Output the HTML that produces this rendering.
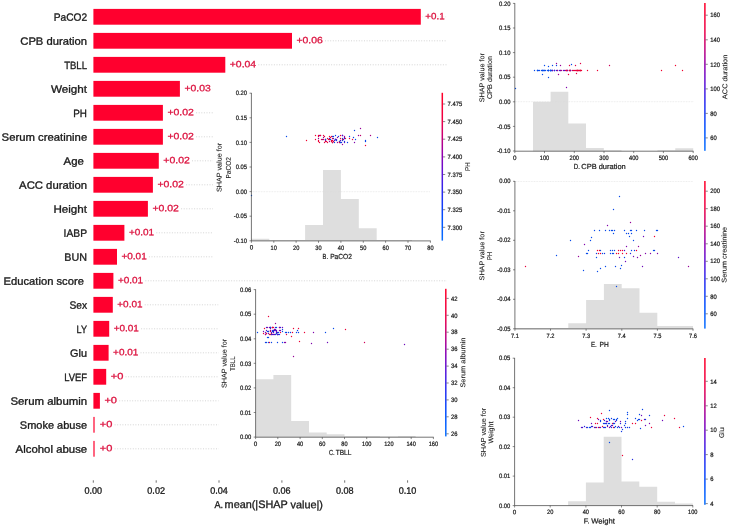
<!DOCTYPE html>
<html lang="en"><head><meta charset="utf-8"><title>SHAP summary</title>
<style>html,body{margin:0;padding:0;background:#fff}body{width:730px;height:526px;overflow:hidden}svg{display:block}text{white-space:pre}</style>
</head><body>
<svg width="730" height="526" viewBox="0 0 730 526" font-family='"Liberation Sans", Arial, sans-serif'>
<defs><linearGradient id="cbg" x1="0" y1="1" x2="0" y2="0">
<stop offset="0" stop-color="#0a70ff"/><stop offset="0.15" stop-color="#0050ff"/><stop offset="0.33" stop-color="#2a2af0"/><stop offset="0.45" stop-color="#5a14d8"/><stop offset="0.57" stop-color="#8c00b4"/><stop offset="0.69" stop-color="#c0007c"/><stop offset="0.81" stop-color="#ee0046"/><stop offset="1" stop-color="#ff0028"/>
</linearGradient></defs>
<rect width="730" height="526" fill="#fff"/>
<g id="bars">
<line x1="421.8" y1="16.8" x2="447" y2="16.8" stroke="#e6e6e6" stroke-width="0.8" stroke-dasharray="1 1.6"/>
<rect x="93.4" y="8.9" width="327.4" height="15.8" fill="#ff002e"/>
<text x="53.80" y="20.70" font-size="10.6" fill="#1a1a1a" stroke="#1a1a1a" stroke-width="0.32" textLength="33.40" lengthAdjust="spacingAndGlyphs" transform="rotate(0.03 53.80 20.70)">PaCO2</text>
<text x="425.30" y="19.30" font-size="9.2" fill="#dc1440" stroke="#dc1440" stroke-width="0.3" textLength="19.30" lengthAdjust="spacingAndGlyphs" transform="rotate(0.03 425.30 19.30)">+0.1</text>
<line x1="325.0" y1="40.8" x2="447" y2="40.8" stroke="#cacaca" stroke-width="0.8" stroke-dasharray="1 1.6"/>
<rect x="93.4" y="32.9" width="198.6" height="15.8" fill="#ff002e"/>
<text x="20.30" y="44.70" font-size="10.6" fill="#1a1a1a" stroke="#1a1a1a" stroke-width="0.32" textLength="66.70" lengthAdjust="spacingAndGlyphs" transform="rotate(0.03 20.30 44.70)">CPB duration</text>
<text x="296.50" y="43.30" font-size="9.2" fill="#dc1440" stroke="#dc1440" stroke-width="0.3" textLength="26.30" lengthAdjust="spacingAndGlyphs" transform="rotate(0.03 296.50 43.30)">+0.06</text>
<line x1="258.3" y1="64.8" x2="447" y2="64.8" stroke="#cacaca" stroke-width="0.8" stroke-dasharray="1 1.6"/>
<rect x="93.4" y="56.9" width="131.9" height="15.8" fill="#ff002e"/>
<text x="64.20" y="68.70" font-size="10.6" fill="#1a1a1a" stroke="#1a1a1a" stroke-width="0.32" textLength="22.80" lengthAdjust="spacingAndGlyphs" transform="rotate(0.03 64.20 68.70)">TBLL</text>
<text x="229.80" y="67.30" font-size="9.2" fill="#dc1440" stroke="#dc1440" stroke-width="0.3" textLength="26.30" lengthAdjust="spacingAndGlyphs" transform="rotate(0.03 229.80 67.30)">+0.04</text>
<line x1="212.9" y1="88.8" x2="447" y2="88.8" stroke="#cacaca" stroke-width="0.8" stroke-dasharray="1 1.6"/>
<rect x="93.4" y="80.9" width="86.5" height="15.8" fill="#ff002e"/>
<text x="50.90" y="92.70" font-size="10.6" fill="#1a1a1a" stroke="#1a1a1a" stroke-width="0.32" textLength="36.10" lengthAdjust="spacingAndGlyphs" transform="rotate(0.03 50.90 92.70)">Weight</text>
<text x="184.40" y="91.30" font-size="9.2" fill="#dc1440" stroke="#dc1440" stroke-width="0.3" textLength="26.30" lengthAdjust="spacingAndGlyphs" transform="rotate(0.03 184.40 91.30)">+0.03</text>
<line x1="196.1" y1="112.8" x2="447" y2="112.8" stroke="#cacaca" stroke-width="0.8" stroke-dasharray="1 1.6"/>
<rect x="93.4" y="104.9" width="69.5" height="15.8" fill="#ff002e"/>
<text x="73.30" y="116.70" font-size="10.6" fill="#1a1a1a" stroke="#1a1a1a" stroke-width="0.32" textLength="13.70" lengthAdjust="spacingAndGlyphs" transform="rotate(0.03 73.30 116.70)">PH</text>
<text x="167.40" y="115.30" font-size="9.2" fill="#dc1440" stroke="#dc1440" stroke-width="0.3" textLength="26.50" lengthAdjust="spacingAndGlyphs" transform="rotate(0.03 167.40 115.30)">+0.02</text>
<line x1="196.1" y1="136.8" x2="447" y2="136.8" stroke="#cacaca" stroke-width="0.8" stroke-dasharray="1 1.6"/>
<rect x="93.4" y="128.9" width="69.5" height="15.8" fill="#ff002e"/>
<text x="1.60" y="140.70" font-size="10.6" fill="#1a1a1a" stroke="#1a1a1a" stroke-width="0.32" textLength="85.60" lengthAdjust="spacingAndGlyphs" transform="rotate(0.03 1.60 140.70)">Serum creatinine</text>
<text x="167.40" y="139.30" font-size="9.2" fill="#dc1440" stroke="#dc1440" stroke-width="0.3" textLength="26.50" lengthAdjust="spacingAndGlyphs" transform="rotate(0.03 167.40 139.30)">+0.02</text>
<line x1="192.0" y1="160.8" x2="447" y2="160.8" stroke="#cacaca" stroke-width="0.8" stroke-dasharray="1 1.6"/>
<rect x="93.4" y="152.9" width="65.4" height="15.8" fill="#ff002e"/>
<text x="63.60" y="164.70" font-size="10.6" fill="#1a1a1a" stroke="#1a1a1a" stroke-width="0.32" textLength="20.40" lengthAdjust="spacingAndGlyphs" transform="rotate(0.03 63.60 164.70)">Age</text>
<text x="163.30" y="163.30" font-size="9.2" fill="#dc1440" stroke="#dc1440" stroke-width="0.3" textLength="26.50" lengthAdjust="spacingAndGlyphs" transform="rotate(0.03 163.30 163.30)">+0.02</text>
<line x1="186.1" y1="184.8" x2="447" y2="184.8" stroke="#cacaca" stroke-width="0.8" stroke-dasharray="1 1.6"/>
<rect x="93.4" y="176.9" width="59.5" height="15.8" fill="#ff002e"/>
<text x="19.10" y="188.70" font-size="10.6" fill="#1a1a1a" stroke="#1a1a1a" stroke-width="0.32" textLength="67.90" lengthAdjust="spacingAndGlyphs" transform="rotate(0.03 19.10 188.70)">ACC duration</text>
<text x="157.40" y="187.30" font-size="9.2" fill="#dc1440" stroke="#dc1440" stroke-width="0.3" textLength="26.50" lengthAdjust="spacingAndGlyphs" transform="rotate(0.03 157.40 187.30)">+0.02</text>
<line x1="181.1" y1="208.8" x2="447" y2="208.8" stroke="#cacaca" stroke-width="0.8" stroke-dasharray="1 1.6"/>
<rect x="93.4" y="200.9" width="54.5" height="15.8" fill="#ff002e"/>
<text x="53.40" y="212.70" font-size="10.6" fill="#1a1a1a" stroke="#1a1a1a" stroke-width="0.32" textLength="33.60" lengthAdjust="spacingAndGlyphs" transform="rotate(0.03 53.40 212.70)">Height</text>
<text x="152.40" y="211.30" font-size="9.2" fill="#dc1440" stroke="#dc1440" stroke-width="0.3" textLength="26.50" lengthAdjust="spacingAndGlyphs" transform="rotate(0.03 152.40 211.30)">+0.02</text>
<line x1="156.3" y1="232.8" x2="447" y2="232.8" stroke="#cacaca" stroke-width="0.8" stroke-dasharray="1 1.6"/>
<rect x="93.4" y="224.9" width="31.0" height="15.8" fill="#ff002e"/>
<text x="63.60" y="236.70" font-size="10.6" fill="#1a1a1a" stroke="#1a1a1a" stroke-width="0.32" textLength="23.40" lengthAdjust="spacingAndGlyphs" transform="rotate(0.03 63.60 236.70)">IABP</text>
<text x="128.90" y="235.30" font-size="9.2" fill="#dc1440" stroke="#dc1440" stroke-width="0.3" textLength="25.20" lengthAdjust="spacingAndGlyphs" transform="rotate(0.03 128.90 235.30)">+0.01</text>
<line x1="148.9" y1="256.8" x2="447" y2="256.8" stroke="#cacaca" stroke-width="0.8" stroke-dasharray="1 1.6"/>
<rect x="93.4" y="248.9" width="23.6" height="15.8" fill="#ff002e"/>
<text x="64.30" y="260.70" font-size="10.6" fill="#1a1a1a" stroke="#1a1a1a" stroke-width="0.32" textLength="22.70" lengthAdjust="spacingAndGlyphs" transform="rotate(0.03 64.30 260.70)">BUN</text>
<text x="121.50" y="259.30" font-size="9.2" fill="#dc1440" stroke="#dc1440" stroke-width="0.3" textLength="25.20" lengthAdjust="spacingAndGlyphs" transform="rotate(0.03 121.50 259.30)">+0.01</text>
<line x1="145.3" y1="280.8" x2="447" y2="280.8" stroke="#cacaca" stroke-width="0.8" stroke-dasharray="1 1.6"/>
<rect x="93.4" y="272.9" width="20.0" height="15.8" fill="#ff002e"/>
<text x="3.60" y="284.70" font-size="10.6" fill="#1a1a1a" stroke="#1a1a1a" stroke-width="0.32" textLength="80.30" lengthAdjust="spacingAndGlyphs" transform="rotate(0.03 3.60 284.70)">Education score</text>
<text x="117.90" y="283.30" font-size="9.2" fill="#dc1440" stroke="#dc1440" stroke-width="0.3" textLength="25.20" lengthAdjust="spacingAndGlyphs" transform="rotate(0.03 117.90 283.30)">+0.01</text>
<line x1="144.7" y1="304.8" x2="447" y2="304.8" stroke="#cacaca" stroke-width="0.8" stroke-dasharray="1 1.6"/>
<rect x="93.4" y="296.9" width="19.4" height="15.8" fill="#ff002e"/>
<text x="69.40" y="308.70" font-size="10.6" fill="#1a1a1a" stroke="#1a1a1a" stroke-width="0.32" textLength="17.60" lengthAdjust="spacingAndGlyphs" transform="rotate(0.03 69.40 308.70)">Sex</text>
<text x="117.30" y="307.30" font-size="9.2" fill="#dc1440" stroke="#dc1440" stroke-width="0.3" textLength="25.20" lengthAdjust="spacingAndGlyphs" transform="rotate(0.03 117.30 307.30)">+0.01</text>
<line x1="141.1" y1="328.8" x2="447" y2="328.8" stroke="#cacaca" stroke-width="0.8" stroke-dasharray="1 1.6"/>
<rect x="93.4" y="320.9" width="15.8" height="15.8" fill="#ff002e"/>
<text x="76.60" y="332.70" font-size="10.6" fill="#1a1a1a" stroke="#1a1a1a" stroke-width="0.32" textLength="10.40" lengthAdjust="spacingAndGlyphs" transform="rotate(0.03 76.60 332.70)">LY</text>
<text x="113.70" y="331.30" font-size="9.2" fill="#dc1440" stroke="#dc1440" stroke-width="0.3" textLength="25.20" lengthAdjust="spacingAndGlyphs" transform="rotate(0.03 113.70 331.30)">+0.01</text>
<line x1="140.5" y1="352.8" x2="447" y2="352.8" stroke="#cacaca" stroke-width="0.8" stroke-dasharray="1 1.6"/>
<rect x="93.4" y="344.9" width="15.2" height="15.8" fill="#ff002e"/>
<text x="70.10" y="356.70" font-size="10.6" fill="#1a1a1a" stroke="#1a1a1a" stroke-width="0.32" textLength="16.90" lengthAdjust="spacingAndGlyphs" transform="rotate(0.03 70.10 356.70)">Glu</text>
<text x="113.10" y="355.30" font-size="9.2" fill="#dc1440" stroke="#dc1440" stroke-width="0.3" textLength="25.20" lengthAdjust="spacingAndGlyphs" transform="rotate(0.03 113.10 355.30)">+0.01</text>
<line x1="125.5" y1="376.8" x2="447" y2="376.8" stroke="#cacaca" stroke-width="0.8" stroke-dasharray="1 1.6"/>
<rect x="93.4" y="368.9" width="12.8" height="15.8" fill="#ff002e"/>
<text x="64.20" y="380.70" font-size="10.6" fill="#1a1a1a" stroke="#1a1a1a" stroke-width="0.32" textLength="22.80" lengthAdjust="spacingAndGlyphs" transform="rotate(0.03 64.20 380.70)">LVEF</text>
<text x="110.70" y="379.30" font-size="9.2" fill="#dc1440" stroke="#dc1440" stroke-width="0.3" textLength="12.60" lengthAdjust="spacingAndGlyphs" transform="rotate(0.03 110.70 379.30)">+0</text>
<line x1="119.2" y1="400.8" x2="447" y2="400.8" stroke="#cacaca" stroke-width="0.8" stroke-dasharray="1 1.6"/>
<rect x="93.4" y="392.9" width="6.5" height="15.8" fill="#ff002e"/>
<text x="10.40" y="404.70" font-size="10.6" fill="#1a1a1a" stroke="#1a1a1a" stroke-width="0.32" textLength="76.80" lengthAdjust="spacingAndGlyphs" transform="rotate(0.03 10.40 404.70)">Serum albumin</text>
<text x="104.40" y="403.30" font-size="9.2" fill="#dc1440" stroke="#dc1440" stroke-width="0.3" textLength="12.60" lengthAdjust="spacingAndGlyphs" transform="rotate(0.03 104.40 403.30)">+0</text>
<line x1="114.6" y1="424.8" x2="447" y2="424.8" stroke="#cacaca" stroke-width="0.8" stroke-dasharray="1 1.6"/>
<rect x="93.4" y="416.9" width="1.2" height="15.8" fill="#ff002e"/>
<text x="19.80" y="428.70" font-size="10.6" fill="#1a1a1a" stroke="#1a1a1a" stroke-width="0.32" textLength="67.20" lengthAdjust="spacingAndGlyphs" transform="rotate(0.03 19.80 428.70)">Smoke abuse</text>
<text x="99.80" y="427.30" font-size="9.2" fill="#dc1440" stroke="#dc1440" stroke-width="0.3" textLength="12.60" lengthAdjust="spacingAndGlyphs" transform="rotate(0.03 99.80 427.30)">+0</text>
<line x1="114.6" y1="448.8" x2="447" y2="448.8" stroke="#cacaca" stroke-width="0.8" stroke-dasharray="1 1.6"/>
<rect x="93.4" y="440.9" width="1.2" height="15.8" fill="#ff002e"/>
<text x="15.60" y="452.70" font-size="10.6" fill="#1a1a1a" stroke="#1a1a1a" stroke-width="0.32" textLength="71.60" lengthAdjust="spacingAndGlyphs" transform="rotate(0.03 15.60 452.70)">Alcohol abuse</text>
<text x="99.80" y="451.30" font-size="9.2" fill="#dc1440" stroke="#dc1440" stroke-width="0.3" textLength="12.60" lengthAdjust="spacingAndGlyphs" transform="rotate(0.03 99.80 451.30)">+0</text>
</g>
<line x1="93.3" y1="480.3" x2="93.3" y2="482.7" stroke="#333" stroke-width="0.7"/>
<text x="93.30" y="493.70" font-size="9.4" fill="#1a1a1a" stroke="#1a1a1a" stroke-width="0.32" text-anchor="middle" textLength="17.60" lengthAdjust="spacingAndGlyphs" transform="rotate(0.03 93.30 493.70)">0.00</text>
<line x1="156.2" y1="480.3" x2="156.2" y2="482.7" stroke="#333" stroke-width="0.7"/>
<text x="156.15" y="493.70" font-size="9.4" fill="#1a1a1a" stroke="#1a1a1a" stroke-width="0.32" text-anchor="middle" textLength="17.60" lengthAdjust="spacingAndGlyphs" transform="rotate(0.03 156.15 493.70)">0.02</text>
<line x1="219.0" y1="480.3" x2="219.0" y2="482.7" stroke="#333" stroke-width="0.7"/>
<text x="219.00" y="493.70" font-size="9.4" fill="#1a1a1a" stroke="#1a1a1a" stroke-width="0.32" text-anchor="middle" textLength="17.60" lengthAdjust="spacingAndGlyphs" transform="rotate(0.03 219.00 493.70)">0.04</text>
<line x1="281.9" y1="480.3" x2="281.9" y2="482.7" stroke="#333" stroke-width="0.7"/>
<text x="281.85" y="493.70" font-size="9.4" fill="#1a1a1a" stroke="#1a1a1a" stroke-width="0.32" text-anchor="middle" textLength="17.60" lengthAdjust="spacingAndGlyphs" transform="rotate(0.03 281.85 493.70)">0.06</text>
<line x1="344.7" y1="480.3" x2="344.7" y2="482.7" stroke="#333" stroke-width="0.7"/>
<text x="344.70" y="493.70" font-size="9.4" fill="#1a1a1a" stroke="#1a1a1a" stroke-width="0.32" text-anchor="middle" textLength="17.60" lengthAdjust="spacingAndGlyphs" transform="rotate(0.03 344.70 493.70)">0.08</text>
<line x1="407.6" y1="480.3" x2="407.6" y2="482.7" stroke="#333" stroke-width="0.7"/>
<text x="407.55" y="493.70" font-size="9.4" fill="#1a1a1a" stroke="#1a1a1a" stroke-width="0.32" text-anchor="middle" textLength="17.60" lengthAdjust="spacingAndGlyphs" transform="rotate(0.03 407.55 493.70)">0.10</text>
<text x="214.50" y="508.10" font-size="10" fill="#1a1a1a" stroke="#1a1a1a" stroke-width="0.32" textLength="8.60" lengthAdjust="spacingAndGlyphs" transform="rotate(0.03 214.50 508.10)">A.</text>
<text x="224.60" y="508.10" font-size="10.8" fill="#1a1a1a" stroke="#1a1a1a" stroke-width="0.32" textLength="98.30" lengthAdjust="spacingAndGlyphs" transform="rotate(0.03 224.60 508.10)">mean(|SHAP value|)</text>
<g id="B">
<rect x="213" y="76" width="269" height="192" fill="#fff"/>
<path d="M251.4 240.9V238.8H269.3V239.9H305.1V225.1H323.0V170.0H340.9V199.0H358.8V228.3H376.7V239.9H412.0V240.9Z" fill="#dedede"/>
<line x1="251.4" y1="191.7" x2="430.4" y2="191.7" stroke="#dcdcdc" stroke-width="0.6" stroke-dasharray="0.8 0.8"/>
<circle cx="286.5" cy="136.5" r="0.7" fill="#074ae9"/>
<circle cx="306.5" cy="140.5" r="0.7" fill="#f0002c"/>
<circle cx="315.5" cy="135.5" r="0.7" fill="#ed0031"/>
<circle cx="315.5" cy="139.5" r="0.7" fill="#ea0037"/>
<circle cx="354.5" cy="130.5" r="0.7" fill="#0842e6"/>
<circle cx="360.5" cy="128.5" r="0.7" fill="#940098"/>
<circle cx="358.5" cy="135.5" r="0.7" fill="#940098"/>
<circle cx="360.5" cy="135.5" r="0.7" fill="#bd006c"/>
<circle cx="355.5" cy="139.5" r="0.7" fill="#074ae9"/>
<circle cx="370.5" cy="135.5" r="0.7" fill="#a80082"/>
<circle cx="365.5" cy="140.5" r="0.7" fill="#074ae9"/>
<circle cx="365.5" cy="141.5" r="0.7" fill="#0842e6"/>
<circle cx="365.5" cy="145.5" r="0.7" fill="#ed0031"/>
<circle cx="377.5" cy="137.5" r="0.7" fill="#074ae9"/>
<circle cx="342.5" cy="144.5" r="0.7" fill="#940098"/>
<circle cx="251.5" cy="195.5" r="0.7" fill="#0652eb"/>
<circle cx="332.5" cy="142.5" r="0.7" fill="#ea0037"/>
<circle cx="340.5" cy="138.5" r="0.7" fill="#ea0037"/>
<circle cx="335.5" cy="139.5" r="0.7" fill="#0842e6"/>
<circle cx="339.5" cy="141.5" r="0.7" fill="#e7003c"/>
<circle cx="340.5" cy="142.5" r="0.7" fill="#074ae9"/>
<circle cx="339.5" cy="141.5" r="0.7" fill="#074ae9"/>
<circle cx="338.5" cy="136.5" r="0.7" fill="#0842e6"/>
<circle cx="334.5" cy="140.5" r="0.7" fill="#5810c8"/>
<circle cx="320.5" cy="135.5" r="0.7" fill="#e7003c"/>
<circle cx="329.5" cy="138.5" r="0.7" fill="#ea0037"/>
<circle cx="322.5" cy="139.5" r="0.7" fill="#6c09b9"/>
<circle cx="329.5" cy="138.5" r="0.7" fill="#0842e6"/>
<circle cx="330.5" cy="137.5" r="0.7" fill="#e7003c"/>
<circle cx="340.5" cy="135.5" r="0.7" fill="#ea0037"/>
<circle cx="325.5" cy="139.5" r="0.7" fill="#ea0037"/>
<circle cx="335.5" cy="135.5" r="0.7" fill="#0842e6"/>
<circle cx="335.5" cy="139.5" r="0.7" fill="#0842e6"/>
<circle cx="329.5" cy="141.5" r="0.7" fill="#940098"/>
<circle cx="330.5" cy="139.5" r="0.7" fill="#0842e6"/>
<circle cx="342.5" cy="135.5" r="0.7" fill="#5810c8"/>
<circle cx="320.5" cy="135.5" r="0.7" fill="#e00044"/>
<circle cx="337.5" cy="142.5" r="0.7" fill="#940098"/>
<circle cx="332.5" cy="142.5" r="0.7" fill="#0842e6"/>
<circle cx="344.5" cy="138.5" r="0.7" fill="#0842e6"/>
<circle cx="327.5" cy="138.5" r="0.7" fill="#e7003c"/>
<circle cx="335.5" cy="139.5" r="0.7" fill="#940098"/>
<circle cx="344.5" cy="141.5" r="0.7" fill="#0842e6"/>
<circle cx="340.5" cy="140.5" r="0.7" fill="#5810c8"/>
<circle cx="327.5" cy="142.5" r="0.7" fill="#e7003c"/>
<circle cx="318.5" cy="136.5" r="0.7" fill="#ea0037"/>
<circle cx="335.5" cy="139.5" r="0.7" fill="#0842e6"/>
<circle cx="342.5" cy="138.5" r="0.7" fill="#0842e6"/>
<circle cx="326.5" cy="141.5" r="0.7" fill="#ea0037"/>
<circle cx="339.5" cy="142.5" r="0.7" fill="#e7003c"/>
<circle cx="325.5" cy="140.5" r="0.7" fill="#6c09b9"/>
<circle cx="321.5" cy="139.5" r="0.7" fill="#ea0037"/>
<circle cx="324.5" cy="136.5" r="0.7" fill="#e7003c"/>
<circle cx="336.5" cy="139.5" r="0.7" fill="#6c09b9"/>
<circle cx="331.5" cy="140.5" r="0.7" fill="#ea0037"/>
<circle cx="332.5" cy="138.5" r="0.7" fill="#ea0037"/>
<circle cx="344.5" cy="137.5" r="0.7" fill="#6c09b9"/>
<circle cx="325.5" cy="141.5" r="0.7" fill="#ea0037"/>
<circle cx="343.5" cy="139.5" r="0.7" fill="#5810c8"/>
<circle cx="342.5" cy="135.5" r="0.7" fill="#6c09b9"/>
<circle cx="334.5" cy="142.5" r="0.7" fill="#074ae9"/>
<circle cx="323.5" cy="137.5" r="0.7" fill="#940098"/>
<circle cx="342.5" cy="135.5" r="0.7" fill="#5810c8"/>
<circle cx="344.5" cy="142.5" r="0.7" fill="#5810c8"/>
<circle cx="318.5" cy="138.5" r="0.7" fill="#940098"/>
<circle cx="332.5" cy="142.5" r="0.7" fill="#e7003c"/>
<circle cx="341.5" cy="142.5" r="0.7" fill="#2329de"/>
<circle cx="318.5" cy="141.5" r="0.7" fill="#ed0031"/>
<circle cx="352.5" cy="139.5" r="0.7" fill="#e7003c"/>
<circle cx="333.5" cy="138.5" r="0.7" fill="#6c09b9"/>
<circle cx="344.5" cy="136.5" r="0.7" fill="#940098"/>
<circle cx="332.5" cy="136.5" r="0.7" fill="#0842e6"/>
<circle cx="319.5" cy="135.5" r="0.7" fill="#940098"/>
<circle cx="319.5" cy="142.5" r="0.7" fill="#ea0037"/>
<circle cx="349.5" cy="136.5" r="0.7" fill="#0842e6"/>
<circle cx="325.5" cy="139.5" r="0.7" fill="#940098"/>
<circle cx="354.5" cy="142.5" r="0.7" fill="#7f03ab"/>
<circle cx="347.5" cy="142.5" r="0.7" fill="#0842e6"/>
<circle cx="337.5" cy="137.5" r="0.7" fill="#940098"/>
<circle cx="339.5" cy="142.5" r="0.7" fill="#e7003c"/>
<circle cx="349.5" cy="138.5" r="0.7" fill="#ea0037"/>
<circle cx="333.5" cy="136.5" r="0.7" fill="#0842e6"/>
<circle cx="318.5" cy="140.5" r="0.7" fill="#e7003c"/>
<circle cx="331.5" cy="136.5" r="0.7" fill="#e7003c"/>
<circle cx="333.5" cy="141.5" r="0.7" fill="#ea0037"/>
<circle cx="342.5" cy="140.5" r="0.7" fill="#074ae9"/>
<circle cx="342.5" cy="139.5" r="0.7" fill="#ea0037"/>
<circle cx="329.5" cy="139.5" r="0.7" fill="#ea0037"/>
<circle cx="323.5" cy="135.5" r="0.7" fill="#ea0037"/>
<circle cx="332.5" cy="140.5" r="0.7" fill="#ea0037"/>
<circle cx="340.5" cy="142.5" r="0.7" fill="#074ae9"/>
<circle cx="345.5" cy="138.5" r="0.7" fill="#ea0037"/>
<circle cx="318.5" cy="135.5" r="0.7" fill="#ed0031"/>
<circle cx="329.5" cy="136.5" r="0.7" fill="#ed0031"/>
<circle cx="336.5" cy="140.5" r="0.7" fill="#0842e6"/>
<circle cx="323.5" cy="139.5" r="0.7" fill="#e7003c"/>
<circle cx="331.5" cy="141.5" r="0.7" fill="#e7003c"/>
<circle cx="324.5" cy="142.5" r="0.7" fill="#e00044"/>
<circle cx="353.5" cy="137.5" r="0.7" fill="#0842e6"/>
<circle cx="325.5" cy="139.5" r="0.7" fill="#0842e6"/>
<circle cx="328.5" cy="139.5" r="0.7" fill="#e00044"/>
<path d="M251.4 92.9V240.9H430.7" fill="none" stroke="#3a3a3a" stroke-width="0.7"/>
<line x1="251.4" y1="240.9" x2="251.4" y2="242.8" stroke="#3a3a3a" stroke-width="0.6"/>
<text x="251.40" y="249.60" font-size="6.3" fill="#1a1a1a" stroke="#1a1a1a" stroke-width="0.22" text-anchor="middle" textLength="3.50" lengthAdjust="spacingAndGlyphs" transform="rotate(0.03 251.40 249.60)">0</text>
<line x1="273.8" y1="240.9" x2="273.8" y2="242.8" stroke="#3a3a3a" stroke-width="0.6"/>
<text x="273.77" y="249.60" font-size="6.3" fill="#1a1a1a" stroke="#1a1a1a" stroke-width="0.22" text-anchor="middle" textLength="6.31" lengthAdjust="spacingAndGlyphs" transform="rotate(0.03 273.77 249.60)">10</text>
<line x1="296.1" y1="240.9" x2="296.1" y2="242.8" stroke="#3a3a3a" stroke-width="0.6"/>
<text x="296.15" y="249.60" font-size="6.3" fill="#1a1a1a" stroke="#1a1a1a" stroke-width="0.22" text-anchor="middle" textLength="6.31" lengthAdjust="spacingAndGlyphs" transform="rotate(0.03 296.15 249.60)">20</text>
<line x1="318.5" y1="240.9" x2="318.5" y2="242.8" stroke="#3a3a3a" stroke-width="0.6"/>
<text x="318.52" y="249.60" font-size="6.3" fill="#1a1a1a" stroke="#1a1a1a" stroke-width="0.22" text-anchor="middle" textLength="6.31" lengthAdjust="spacingAndGlyphs" transform="rotate(0.03 318.52 249.60)">30</text>
<line x1="340.9" y1="240.9" x2="340.9" y2="242.8" stroke="#3a3a3a" stroke-width="0.6"/>
<text x="340.90" y="249.60" font-size="6.3" fill="#1a1a1a" stroke="#1a1a1a" stroke-width="0.22" text-anchor="middle" textLength="6.31" lengthAdjust="spacingAndGlyphs" transform="rotate(0.03 340.90 249.60)">40</text>
<line x1="363.3" y1="240.9" x2="363.3" y2="242.8" stroke="#3a3a3a" stroke-width="0.6"/>
<text x="363.27" y="249.60" font-size="6.3" fill="#1a1a1a" stroke="#1a1a1a" stroke-width="0.22" text-anchor="middle" textLength="6.31" lengthAdjust="spacingAndGlyphs" transform="rotate(0.03 363.27 249.60)">50</text>
<line x1="385.6" y1="240.9" x2="385.6" y2="242.8" stroke="#3a3a3a" stroke-width="0.6"/>
<text x="385.65" y="249.60" font-size="6.3" fill="#1a1a1a" stroke="#1a1a1a" stroke-width="0.22" text-anchor="middle" textLength="6.31" lengthAdjust="spacingAndGlyphs" transform="rotate(0.03 385.65 249.60)">60</text>
<line x1="408.0" y1="240.9" x2="408.0" y2="242.8" stroke="#3a3a3a" stroke-width="0.6"/>
<text x="408.02" y="249.60" font-size="6.3" fill="#1a1a1a" stroke="#1a1a1a" stroke-width="0.22" text-anchor="middle" textLength="6.31" lengthAdjust="spacingAndGlyphs" transform="rotate(0.03 408.02 249.60)">70</text>
<line x1="430.4" y1="240.9" x2="430.4" y2="242.8" stroke="#3a3a3a" stroke-width="0.6"/>
<text x="430.40" y="249.60" font-size="6.3" fill="#1a1a1a" stroke="#1a1a1a" stroke-width="0.22" text-anchor="middle" textLength="6.31" lengthAdjust="spacingAndGlyphs" transform="rotate(0.03 430.40 249.60)">80</text>
<line x1="249.5" y1="93.2" x2="251.4" y2="93.2" stroke="#3a3a3a" stroke-width="0.6"/>
<text x="247.10" y="95.40" font-size="6.3" fill="#1a1a1a" stroke="#1a1a1a" stroke-width="0.22" text-anchor="end" textLength="11.40" lengthAdjust="spacingAndGlyphs" transform="rotate(0.03 247.10 95.40)">0.20</text>
<line x1="249.5" y1="117.8" x2="251.4" y2="117.8" stroke="#3a3a3a" stroke-width="0.6"/>
<text x="247.10" y="120.00" font-size="6.3" fill="#1a1a1a" stroke="#1a1a1a" stroke-width="0.22" text-anchor="end" textLength="11.40" lengthAdjust="spacingAndGlyphs" transform="rotate(0.03 247.10 120.00)">0.15</text>
<line x1="249.5" y1="142.4" x2="251.4" y2="142.4" stroke="#3a3a3a" stroke-width="0.6"/>
<text x="247.10" y="144.60" font-size="6.3" fill="#1a1a1a" stroke="#1a1a1a" stroke-width="0.22" text-anchor="end" textLength="11.40" lengthAdjust="spacingAndGlyphs" transform="rotate(0.03 247.10 144.60)">0.10</text>
<line x1="249.5" y1="167.0" x2="251.4" y2="167.0" stroke="#3a3a3a" stroke-width="0.6"/>
<text x="247.10" y="169.20" font-size="6.3" fill="#1a1a1a" stroke="#1a1a1a" stroke-width="0.22" text-anchor="end" textLength="11.40" lengthAdjust="spacingAndGlyphs" transform="rotate(0.03 247.10 169.20)">0.05</text>
<line x1="249.5" y1="191.6" x2="251.4" y2="191.6" stroke="#3a3a3a" stroke-width="0.6"/>
<text x="247.10" y="193.80" font-size="6.3" fill="#1a1a1a" stroke="#1a1a1a" stroke-width="0.22" text-anchor="end" textLength="11.40" lengthAdjust="spacingAndGlyphs" transform="rotate(0.03 247.10 193.80)">0.00</text>
<line x1="249.5" y1="216.2" x2="251.4" y2="216.2" stroke="#3a3a3a" stroke-width="0.6"/>
<text x="247.10" y="218.40" font-size="6.3" fill="#1a1a1a" stroke="#1a1a1a" stroke-width="0.22" text-anchor="end" textLength="13.35" lengthAdjust="spacingAndGlyphs" transform="rotate(0.03 247.10 218.40)">-0.05</text>
<line x1="249.5" y1="240.8" x2="251.4" y2="240.8" stroke="#3a3a3a" stroke-width="0.6"/>
<text x="247.10" y="243.00" font-size="6.3" fill="#1a1a1a" stroke="#1a1a1a" stroke-width="0.22" text-anchor="end" textLength="13.35" lengthAdjust="spacingAndGlyphs" transform="rotate(0.03 247.10 243.00)">-0.10</text>
<rect x="441.55" y="92.8" width="1.5" height="147.8" fill="url(#cbg)"/>
<line x1="443.0" y1="104.0" x2="445.2" y2="104.0" stroke="#3a3a3a" stroke-width="0.6"/>
<text x="447.60" y="106.20" font-size="6.3" fill="#1a1a1a" stroke="#1a1a1a" stroke-width="0.22" textLength="14.66" lengthAdjust="spacingAndGlyphs" transform="rotate(0.03 447.60 106.20)">7.475</text>
<line x1="443.0" y1="121.6" x2="445.2" y2="121.6" stroke="#3a3a3a" stroke-width="0.6"/>
<text x="447.60" y="123.82" font-size="6.3" fill="#1a1a1a" stroke="#1a1a1a" stroke-width="0.22" textLength="14.66" lengthAdjust="spacingAndGlyphs" transform="rotate(0.03 447.60 123.82)">7.450</text>
<line x1="443.0" y1="139.2" x2="445.2" y2="139.2" stroke="#3a3a3a" stroke-width="0.6"/>
<text x="447.60" y="141.44" font-size="6.3" fill="#1a1a1a" stroke="#1a1a1a" stroke-width="0.22" textLength="14.66" lengthAdjust="spacingAndGlyphs" transform="rotate(0.03 447.60 141.44)">7.425</text>
<line x1="443.0" y1="156.9" x2="445.2" y2="156.9" stroke="#3a3a3a" stroke-width="0.6"/>
<text x="447.60" y="159.06" font-size="6.3" fill="#1a1a1a" stroke="#1a1a1a" stroke-width="0.22" textLength="14.66" lengthAdjust="spacingAndGlyphs" transform="rotate(0.03 447.60 159.06)">7.400</text>
<line x1="443.0" y1="174.5" x2="445.2" y2="174.5" stroke="#3a3a3a" stroke-width="0.6"/>
<text x="447.60" y="176.68" font-size="6.3" fill="#1a1a1a" stroke="#1a1a1a" stroke-width="0.22" textLength="14.66" lengthAdjust="spacingAndGlyphs" transform="rotate(0.03 447.60 176.68)">7.375</text>
<line x1="443.0" y1="192.1" x2="445.2" y2="192.1" stroke="#3a3a3a" stroke-width="0.6"/>
<text x="447.60" y="194.30" font-size="6.3" fill="#1a1a1a" stroke="#1a1a1a" stroke-width="0.22" textLength="14.66" lengthAdjust="spacingAndGlyphs" transform="rotate(0.03 447.60 194.30)">7.350</text>
<line x1="443.0" y1="209.7" x2="445.2" y2="209.7" stroke="#3a3a3a" stroke-width="0.6"/>
<text x="447.60" y="211.92" font-size="6.3" fill="#1a1a1a" stroke="#1a1a1a" stroke-width="0.22" textLength="14.66" lengthAdjust="spacingAndGlyphs" transform="rotate(0.03 447.60 211.92)">7.325</text>
<line x1="443.0" y1="227.3" x2="445.2" y2="227.3" stroke="#3a3a3a" stroke-width="0.6"/>
<text x="447.60" y="229.54" font-size="6.3" fill="#1a1a1a" stroke="#1a1a1a" stroke-width="0.22" textLength="14.66" lengthAdjust="spacingAndGlyphs" transform="rotate(0.03 447.60 229.54)">7.300</text>
<text x="469.80" y="166.70" font-size="6.9" fill="#1a1a1a" stroke="#1a1a1a" stroke-width="0.1" text-anchor="middle" textLength="8.60" lengthAdjust="spacingAndGlyphs" transform="rotate(-90.03 469.80 166.70)">PH</text>
<text x="322.60" y="258.80" font-size="7.3" fill="#1a1a1a" stroke="#1a1a1a" stroke-width="0.22" textLength="5.40" lengthAdjust="spacingAndGlyphs" transform="rotate(0.03 322.60 258.80)">B.</text>
<text x="330.20" y="258.80" font-size="7.4" fill="#1a1a1a" stroke="#1a1a1a" stroke-width="0.22" textLength="21.80" lengthAdjust="spacingAndGlyphs" transform="rotate(0.03 330.20 258.80)">PaCO2</text>
<text x="221.40" y="167.50" font-size="6.9" fill="#1a1a1a" stroke="#1a1a1a" stroke-width="0.1" text-anchor="middle" textLength="49.20" lengthAdjust="spacingAndGlyphs" transform="rotate(-90.03 221.40 167.50)">SHAP value for</text>
<text x="230.80" y="167.80" font-size="6.9" fill="#1a1a1a" stroke="#1a1a1a" stroke-width="0.1" text-anchor="middle" textLength="21.40" lengthAdjust="spacingAndGlyphs" transform="rotate(-90.03 230.80 167.80)">PaCO2</text>
</g>
<g id="C">
<rect x="218.5" y="288" width="263.5" height="182" fill="#fff"/>
<path d="M255.9 437.2V379.2H273.4V375.0H291.2V421.1H309.0V432.6H326.7V434.3H344.5V435.9H380.0V436.5H398.0V435.9H415.6V437.2Z" fill="#dedede"/>
<circle cx="257.5" cy="332.5" r="0.7" fill="#074ae9"/>
<circle cx="268.5" cy="316.5" r="0.7" fill="#e7003c"/>
<circle cx="275.5" cy="323.5" r="0.7" fill="#940098"/>
<circle cx="293.5" cy="328.5" r="0.7" fill="#ed0031"/>
<circle cx="298.5" cy="328.5" r="0.7" fill="#ea0037"/>
<circle cx="297.5" cy="330.5" r="0.7" fill="#0842e6"/>
<circle cx="267.5" cy="337.5" r="0.7" fill="#074ae9"/>
<circle cx="268.5" cy="337.5" r="0.7" fill="#0842e6"/>
<circle cx="291.5" cy="336.5" r="0.7" fill="#ed0031"/>
<circle cx="286.5" cy="334.5" r="0.7" fill="#ea0037"/>
<circle cx="299.5" cy="341.5" r="0.7" fill="#ed0031"/>
<circle cx="311.5" cy="343.5" r="0.7" fill="#7f03ab"/>
<circle cx="293.5" cy="356.5" r="0.7" fill="#940098"/>
<circle cx="325.5" cy="332.5" r="0.7" fill="#074ae9"/>
<circle cx="333.5" cy="328.5" r="0.7" fill="#074ae9"/>
<circle cx="345.5" cy="329.5" r="0.7" fill="#ea0037"/>
<circle cx="327.5" cy="342.5" r="0.7" fill="#6c09b9"/>
<circle cx="364.5" cy="342.5" r="0.7" fill="#ce0058"/>
<circle cx="404.5" cy="344.5" r="0.7" fill="#6c09b9"/>
<circle cx="313.5" cy="332.5" r="0.7" fill="#7f03ab"/>
<circle cx="285.5" cy="332.5" r="0.7" fill="#074ae9"/>
<circle cx="286.5" cy="332.5" r="0.7" fill="#0842e6"/>
<circle cx="288.5" cy="332.5" r="0.7" fill="#074ae9"/>
<circle cx="290.5" cy="332.5" r="0.7" fill="#113ae3"/>
<circle cx="292.5" cy="332.5" r="0.7" fill="#ea0037"/>
<circle cx="296.5" cy="332.5" r="0.7" fill="#074ae9"/>
<circle cx="298.5" cy="332.5" r="0.7" fill="#0842e6"/>
<circle cx="304.5" cy="332.5" r="0.7" fill="#ea0037"/>
<circle cx="265.5" cy="342.5" r="0.7" fill="#113ae3"/>
<circle cx="266.5" cy="342.5" r="0.7" fill="#074ae9"/>
<circle cx="268.5" cy="342.5" r="0.7" fill="#074ae9"/>
<circle cx="269.5" cy="342.5" r="0.7" fill="#ea0037"/>
<circle cx="271.5" cy="342.5" r="0.7" fill="#074ae9"/>
<circle cx="277.5" cy="342.5" r="0.7" fill="#0842e6"/>
<circle cx="282.5" cy="342.5" r="0.7" fill="#074ae9"/>
<circle cx="284.5" cy="342.5" r="0.7" fill="#6c09b9"/>
<circle cx="285.5" cy="342.5" r="0.7" fill="#940098"/>
<circle cx="279.5" cy="327.5" r="0.7" fill="#940098"/>
<circle cx="279.5" cy="330.5" r="0.7" fill="#940098"/>
<circle cx="268.5" cy="331.5" r="0.7" fill="#e7003c"/>
<circle cx="265.5" cy="334.5" r="0.7" fill="#940098"/>
<circle cx="275.5" cy="334.5" r="0.7" fill="#074ae9"/>
<circle cx="266.5" cy="330.5" r="0.7" fill="#5810c8"/>
<circle cx="275.5" cy="327.5" r="0.7" fill="#0842e6"/>
<circle cx="270.5" cy="330.5" r="0.7" fill="#6c09b9"/>
<circle cx="271.5" cy="333.5" r="0.7" fill="#e7003c"/>
<circle cx="282.5" cy="327.5" r="0.7" fill="#6c09b9"/>
<circle cx="270.5" cy="327.5" r="0.7" fill="#940098"/>
<circle cx="271.5" cy="332.5" r="0.7" fill="#4418d0"/>
<circle cx="274.5" cy="330.5" r="0.7" fill="#074ae9"/>
<circle cx="278.5" cy="334.5" r="0.7" fill="#6c09b9"/>
<circle cx="267.5" cy="327.5" r="0.7" fill="#940098"/>
<circle cx="269.5" cy="327.5" r="0.7" fill="#6c09b9"/>
<circle cx="272.5" cy="327.5" r="0.7" fill="#7f03ab"/>
<circle cx="282.5" cy="331.5" r="0.7" fill="#074ae9"/>
<circle cx="276.5" cy="332.5" r="0.7" fill="#6c09b9"/>
<circle cx="270.5" cy="334.5" r="0.7" fill="#e7003c"/>
<circle cx="270.5" cy="328.5" r="0.7" fill="#940098"/>
<circle cx="273.5" cy="330.5" r="0.7" fill="#7f03ab"/>
<circle cx="276.5" cy="330.5" r="0.7" fill="#4418d0"/>
<circle cx="273.5" cy="327.5" r="0.7" fill="#ed0031"/>
<circle cx="276.5" cy="327.5" r="0.7" fill="#074ae9"/>
<circle cx="267.5" cy="331.5" r="0.7" fill="#0842e6"/>
<circle cx="270.5" cy="327.5" r="0.7" fill="#4418d0"/>
<circle cx="265.5" cy="332.5" r="0.7" fill="#6c09b9"/>
<circle cx="274.5" cy="334.5" r="0.7" fill="#7f03ab"/>
<circle cx="265.5" cy="334.5" r="0.7" fill="#940098"/>
<circle cx="280.5" cy="332.5" r="0.7" fill="#ed0031"/>
<circle cx="272.5" cy="334.5" r="0.7" fill="#6c09b9"/>
<circle cx="270.5" cy="331.5" r="0.7" fill="#e7003c"/>
<circle cx="268.5" cy="333.5" r="0.7" fill="#6c09b9"/>
<circle cx="266.5" cy="333.5" r="0.7" fill="#6c09b9"/>
<circle cx="275.5" cy="330.5" r="0.7" fill="#6c09b9"/>
<circle cx="272.5" cy="330.5" r="0.7" fill="#074ae9"/>
<circle cx="270.5" cy="330.5" r="0.7" fill="#940098"/>
<circle cx="272.5" cy="327.5" r="0.7" fill="#e7003c"/>
<circle cx="264.5" cy="328.5" r="0.7" fill="#ed0031"/>
<circle cx="272.5" cy="327.5" r="0.7" fill="#e7003c"/>
<circle cx="276.5" cy="331.5" r="0.7" fill="#6c09b9"/>
<circle cx="277.5" cy="334.5" r="0.7" fill="#074ae9"/>
<circle cx="282.5" cy="329.5" r="0.7" fill="#074ae9"/>
<circle cx="268.5" cy="331.5" r="0.7" fill="#0842e6"/>
<circle cx="277.5" cy="334.5" r="0.7" fill="#074ae9"/>
<circle cx="279.5" cy="334.5" r="0.7" fill="#074ae9"/>
<circle cx="276.5" cy="333.5" r="0.7" fill="#ed0031"/>
<circle cx="277.5" cy="334.5" r="0.7" fill="#4418d0"/>
<circle cx="279.5" cy="327.5" r="0.7" fill="#940098"/>
<circle cx="269.5" cy="334.5" r="0.7" fill="#e7003c"/>
<circle cx="266.5" cy="327.5" r="0.7" fill="#4418d0"/>
<circle cx="276.5" cy="333.5" r="0.7" fill="#0842e6"/>
<circle cx="270.5" cy="327.5" r="0.7" fill="#074ae9"/>
<circle cx="278.5" cy="332.5" r="0.7" fill="#074ae9"/>
<circle cx="280.5" cy="330.5" r="0.7" fill="#6c09b9"/>
<circle cx="275.5" cy="329.5" r="0.7" fill="#7f03ab"/>
<circle cx="272.5" cy="331.5" r="0.7" fill="#2329de"/>
<circle cx="280.5" cy="327.5" r="0.7" fill="#4418d0"/>
<circle cx="271.5" cy="334.5" r="0.7" fill="#e7003c"/>
<circle cx="273.5" cy="332.5" r="0.7" fill="#6c09b9"/>
<circle cx="266.5" cy="333.5" r="0.7" fill="#ed0031"/>
<circle cx="263.5" cy="331.5" r="0.7" fill="#6c09b9"/>
<circle cx="274.5" cy="329.5" r="0.7" fill="#6c09b9"/>
<circle cx="271.5" cy="334.5" r="0.7" fill="#0842e6"/>
<circle cx="263.5" cy="333.5" r="0.7" fill="#e7003c"/>
<circle cx="273.5" cy="331.5" r="0.7" fill="#0842e6"/>
<circle cx="277.5" cy="332.5" r="0.7" fill="#2329de"/>
<circle cx="274.5" cy="329.5" r="0.7" fill="#7f03ab"/>
<circle cx="273.5" cy="334.5" r="0.7" fill="#5810c8"/>
<path d="M255.6 289.3V437.2H433.7" fill="none" stroke="#3a3a3a" stroke-width="0.7"/>
<line x1="255.6" y1="437.2" x2="255.6" y2="439.1" stroke="#3a3a3a" stroke-width="0.6"/>
<text x="255.60" y="445.90" font-size="6.3" fill="#1a1a1a" stroke="#1a1a1a" stroke-width="0.22" text-anchor="middle" textLength="3.50" lengthAdjust="spacingAndGlyphs" transform="rotate(0.03 255.60 445.90)">0</text>
<line x1="277.8" y1="437.2" x2="277.8" y2="439.1" stroke="#3a3a3a" stroke-width="0.6"/>
<text x="277.82" y="445.90" font-size="6.3" fill="#1a1a1a" stroke="#1a1a1a" stroke-width="0.22" text-anchor="middle" textLength="6.31" lengthAdjust="spacingAndGlyphs" transform="rotate(0.03 277.82 445.90)">20</text>
<line x1="300.1" y1="437.2" x2="300.1" y2="439.1" stroke="#3a3a3a" stroke-width="0.6"/>
<text x="300.05" y="445.90" font-size="6.3" fill="#1a1a1a" stroke="#1a1a1a" stroke-width="0.22" text-anchor="middle" textLength="6.31" lengthAdjust="spacingAndGlyphs" transform="rotate(0.03 300.05 445.90)">40</text>
<line x1="322.3" y1="437.2" x2="322.3" y2="439.1" stroke="#3a3a3a" stroke-width="0.6"/>
<text x="322.27" y="445.90" font-size="6.3" fill="#1a1a1a" stroke="#1a1a1a" stroke-width="0.22" text-anchor="middle" textLength="6.31" lengthAdjust="spacingAndGlyphs" transform="rotate(0.03 322.27 445.90)">60</text>
<line x1="344.5" y1="437.2" x2="344.5" y2="439.1" stroke="#3a3a3a" stroke-width="0.6"/>
<text x="344.50" y="445.90" font-size="6.3" fill="#1a1a1a" stroke="#1a1a1a" stroke-width="0.22" text-anchor="middle" textLength="6.31" lengthAdjust="spacingAndGlyphs" transform="rotate(0.03 344.50 445.90)">80</text>
<line x1="366.7" y1="437.2" x2="366.7" y2="439.1" stroke="#3a3a3a" stroke-width="0.6"/>
<text x="366.73" y="445.90" font-size="6.3" fill="#1a1a1a" stroke="#1a1a1a" stroke-width="0.22" text-anchor="middle" textLength="9.46" lengthAdjust="spacingAndGlyphs" transform="rotate(0.03 366.73 445.90)">100</text>
<line x1="389.0" y1="437.2" x2="389.0" y2="439.1" stroke="#3a3a3a" stroke-width="0.6"/>
<text x="388.95" y="445.90" font-size="6.3" fill="#1a1a1a" stroke="#1a1a1a" stroke-width="0.22" text-anchor="middle" textLength="9.46" lengthAdjust="spacingAndGlyphs" transform="rotate(0.03 388.95 445.90)">120</text>
<line x1="411.2" y1="437.2" x2="411.2" y2="439.1" stroke="#3a3a3a" stroke-width="0.6"/>
<text x="411.18" y="445.90" font-size="6.3" fill="#1a1a1a" stroke="#1a1a1a" stroke-width="0.22" text-anchor="middle" textLength="9.46" lengthAdjust="spacingAndGlyphs" transform="rotate(0.03 411.18 445.90)">140</text>
<line x1="433.4" y1="437.2" x2="433.4" y2="439.1" stroke="#3a3a3a" stroke-width="0.6"/>
<text x="433.40" y="445.90" font-size="6.3" fill="#1a1a1a" stroke="#1a1a1a" stroke-width="0.22" text-anchor="middle" textLength="9.46" lengthAdjust="spacingAndGlyphs" transform="rotate(0.03 433.40 445.90)">160</text>
<line x1="253.7" y1="289.6" x2="255.6" y2="289.6" stroke="#3a3a3a" stroke-width="0.6"/>
<text x="251.30" y="291.80" font-size="6.3" fill="#1a1a1a" stroke="#1a1a1a" stroke-width="0.22" text-anchor="end" textLength="11.40" lengthAdjust="spacingAndGlyphs" transform="rotate(0.03 251.30 291.80)">0.06</text>
<line x1="253.7" y1="314.2" x2="255.6" y2="314.2" stroke="#3a3a3a" stroke-width="0.6"/>
<text x="251.30" y="316.38" font-size="6.3" fill="#1a1a1a" stroke="#1a1a1a" stroke-width="0.22" text-anchor="end" textLength="11.40" lengthAdjust="spacingAndGlyphs" transform="rotate(0.03 251.30 316.38)">0.05</text>
<line x1="253.7" y1="338.8" x2="255.6" y2="338.8" stroke="#3a3a3a" stroke-width="0.6"/>
<text x="251.30" y="340.96" font-size="6.3" fill="#1a1a1a" stroke="#1a1a1a" stroke-width="0.22" text-anchor="end" textLength="11.40" lengthAdjust="spacingAndGlyphs" transform="rotate(0.03 251.30 340.96)">0.04</text>
<line x1="253.7" y1="363.3" x2="255.6" y2="363.3" stroke="#3a3a3a" stroke-width="0.6"/>
<text x="251.30" y="365.54" font-size="6.3" fill="#1a1a1a" stroke="#1a1a1a" stroke-width="0.22" text-anchor="end" textLength="11.40" lengthAdjust="spacingAndGlyphs" transform="rotate(0.03 251.30 365.54)">0.03</text>
<line x1="253.7" y1="387.9" x2="255.6" y2="387.9" stroke="#3a3a3a" stroke-width="0.6"/>
<text x="251.30" y="390.12" font-size="6.3" fill="#1a1a1a" stroke="#1a1a1a" stroke-width="0.22" text-anchor="end" textLength="11.40" lengthAdjust="spacingAndGlyphs" transform="rotate(0.03 251.30 390.12)">0.02</text>
<line x1="253.7" y1="412.5" x2="255.6" y2="412.5" stroke="#3a3a3a" stroke-width="0.6"/>
<text x="251.30" y="414.70" font-size="6.3" fill="#1a1a1a" stroke="#1a1a1a" stroke-width="0.22" text-anchor="end" textLength="11.40" lengthAdjust="spacingAndGlyphs" transform="rotate(0.03 251.30 414.70)">0.01</text>
<line x1="253.7" y1="437.1" x2="255.6" y2="437.1" stroke="#3a3a3a" stroke-width="0.6"/>
<text x="251.30" y="439.28" font-size="6.3" fill="#1a1a1a" stroke="#1a1a1a" stroke-width="0.22" text-anchor="end" textLength="11.40" lengthAdjust="spacingAndGlyphs" transform="rotate(0.03 251.30 439.28)">0.00</text>
<rect x="445.05" y="288.8" width="1.5" height="147.6" fill="url(#cbg)"/>
<line x1="446.5" y1="298.4" x2="448.7" y2="298.4" stroke="#3a3a3a" stroke-width="0.6"/>
<text x="451.10" y="300.60" font-size="6.3" fill="#1a1a1a" stroke="#1a1a1a" stroke-width="0.22" textLength="6.52" lengthAdjust="spacingAndGlyphs" transform="rotate(0.03 451.10 300.60)">42</text>
<line x1="446.5" y1="315.3" x2="448.7" y2="315.3" stroke="#3a3a3a" stroke-width="0.6"/>
<text x="451.10" y="317.52" font-size="6.3" fill="#1a1a1a" stroke="#1a1a1a" stroke-width="0.22" textLength="6.52" lengthAdjust="spacingAndGlyphs" transform="rotate(0.03 451.10 317.52)">40</text>
<line x1="446.5" y1="332.2" x2="448.7" y2="332.2" stroke="#3a3a3a" stroke-width="0.6"/>
<text x="451.10" y="334.44" font-size="6.3" fill="#1a1a1a" stroke="#1a1a1a" stroke-width="0.22" textLength="6.52" lengthAdjust="spacingAndGlyphs" transform="rotate(0.03 451.10 334.44)">38</text>
<line x1="446.5" y1="349.2" x2="448.7" y2="349.2" stroke="#3a3a3a" stroke-width="0.6"/>
<text x="451.10" y="351.36" font-size="6.3" fill="#1a1a1a" stroke="#1a1a1a" stroke-width="0.22" textLength="6.52" lengthAdjust="spacingAndGlyphs" transform="rotate(0.03 451.10 351.36)">36</text>
<line x1="446.5" y1="366.1" x2="448.7" y2="366.1" stroke="#3a3a3a" stroke-width="0.6"/>
<text x="451.10" y="368.28" font-size="6.3" fill="#1a1a1a" stroke="#1a1a1a" stroke-width="0.22" textLength="6.52" lengthAdjust="spacingAndGlyphs" transform="rotate(0.03 451.10 368.28)">34</text>
<line x1="446.5" y1="383.0" x2="448.7" y2="383.0" stroke="#3a3a3a" stroke-width="0.6"/>
<text x="451.10" y="385.20" font-size="6.3" fill="#1a1a1a" stroke="#1a1a1a" stroke-width="0.22" textLength="6.52" lengthAdjust="spacingAndGlyphs" transform="rotate(0.03 451.10 385.20)">32</text>
<line x1="446.5" y1="399.9" x2="448.7" y2="399.9" stroke="#3a3a3a" stroke-width="0.6"/>
<text x="451.10" y="402.12" font-size="6.3" fill="#1a1a1a" stroke="#1a1a1a" stroke-width="0.22" textLength="6.52" lengthAdjust="spacingAndGlyphs" transform="rotate(0.03 451.10 402.12)">30</text>
<line x1="446.5" y1="416.8" x2="448.7" y2="416.8" stroke="#3a3a3a" stroke-width="0.6"/>
<text x="451.10" y="419.04" font-size="6.3" fill="#1a1a1a" stroke="#1a1a1a" stroke-width="0.22" textLength="6.52" lengthAdjust="spacingAndGlyphs" transform="rotate(0.03 451.10 419.04)">28</text>
<line x1="446.5" y1="433.8" x2="448.7" y2="433.8" stroke="#3a3a3a" stroke-width="0.6"/>
<text x="451.10" y="435.96" font-size="6.3" fill="#1a1a1a" stroke="#1a1a1a" stroke-width="0.22" textLength="6.52" lengthAdjust="spacingAndGlyphs" transform="rotate(0.03 451.10 435.96)">26</text>
<text x="465.20" y="362.60" font-size="6.9" fill="#1a1a1a" stroke="#1a1a1a" stroke-width="0.1" text-anchor="middle" textLength="50.00" lengthAdjust="spacingAndGlyphs" transform="rotate(-90.03 465.20 362.60)">Serum albumin</text>
<text x="328.90" y="455.00" font-size="7.3" fill="#1a1a1a" stroke="#1a1a1a" stroke-width="0.22" textLength="5.80" lengthAdjust="spacingAndGlyphs" transform="rotate(0.03 328.90 455.00)">C.</text>
<text x="335.70" y="455.00" font-size="7.4" fill="#1a1a1a" stroke="#1a1a1a" stroke-width="0.22" textLength="15.60" lengthAdjust="spacingAndGlyphs" transform="rotate(0.03 335.70 455.00)">TBLL</text>
<text x="226.60" y="363.50" font-size="6.9" fill="#1a1a1a" stroke="#1a1a1a" stroke-width="0.1" text-anchor="middle" textLength="49.20" lengthAdjust="spacingAndGlyphs" transform="rotate(-90.03 226.60 363.50)">SHAP value for</text>
<text x="235.50" y="363.70" font-size="6.9" fill="#1a1a1a" stroke="#1a1a1a" stroke-width="0.1" text-anchor="middle" textLength="14.60" lengthAdjust="spacingAndGlyphs" transform="rotate(-90.03 235.50 363.70)">TBLL</text>
</g>
<g id="D">
<path d="M533.0 151.2V101.8H550.6V91.8H568.3V123.6H586.0V148.0H603.8V150.3H621.5V151.2ZM657.5 151.2V150.3H675.3V148.2H693.2V151.2Z" fill="#dedede"/>
<line x1="514.8" y1="101.7" x2="693.2" y2="101.7" stroke="#dcdcdc" stroke-width="0.6" stroke-dasharray="0.8 0.8"/>
<circle cx="544.5" cy="65.5" r="0.7" fill="#074ae9"/>
<circle cx="548.5" cy="66.5" r="0.7" fill="#074ae9"/>
<circle cx="552.5" cy="65.5" r="0.7" fill="#074ae9"/>
<circle cx="556.5" cy="65.5" r="0.7" fill="#0842e6"/>
<circle cx="556.5" cy="63.5" r="0.7" fill="#940098"/>
<circle cx="560.5" cy="65.5" r="0.7" fill="#940098"/>
<circle cx="569.5" cy="65.5" r="0.7" fill="#e00044"/>
<circle cx="571.5" cy="64.5" r="0.7" fill="#074ae9"/>
<circle cx="575.5" cy="65.5" r="0.7" fill="#e00044"/>
<circle cx="580.5" cy="63.5" r="0.7" fill="#e00044"/>
<circle cx="542.5" cy="74.5" r="0.7" fill="#074ae9"/>
<circle cx="548.5" cy="77.5" r="0.7" fill="#074ae9"/>
<circle cx="558.5" cy="74.5" r="0.7" fill="#940098"/>
<circle cx="568.5" cy="74.5" r="0.7" fill="#e00044"/>
<circle cx="576.5" cy="73.5" r="0.7" fill="#e00044"/>
<circle cx="566.5" cy="87.5" r="0.7" fill="#7f03ab"/>
<circle cx="587.5" cy="70.5" r="0.7" fill="#ed0031"/>
<circle cx="597.5" cy="70.5" r="0.7" fill="#ed0031"/>
<circle cx="609.5" cy="65.5" r="0.7" fill="#ce0058"/>
<circle cx="661.5" cy="70.5" r="0.7" fill="#f0002c"/>
<circle cx="675.5" cy="65.5" r="0.7" fill="#f0002c"/>
<circle cx="682.5" cy="70.5" r="0.7" fill="#f0002c"/>
<circle cx="515.5" cy="88.5" r="0.7" fill="#074dea"/>
<circle cx="542.5" cy="70.5" r="0.7" fill="#074dea"/>
<circle cx="576.5" cy="70.5" r="0.7" fill="#ee002f"/>
<circle cx="577.5" cy="70.5" r="0.7" fill="#e90037"/>
<circle cx="537.5" cy="70.5" r="0.7" fill="#074dea"/>
<circle cx="550.5" cy="70.5" r="0.7" fill="#074dea"/>
<circle cx="551.5" cy="70.5" r="0.7" fill="#074dea"/>
<circle cx="570.5" cy="70.5" r="0.7" fill="#e90038"/>
<circle cx="578.5" cy="70.5" r="0.7" fill="#f0002c"/>
<circle cx="550.5" cy="70.5" r="0.7" fill="#074dea"/>
<circle cx="581.5" cy="70.5" r="0.7" fill="#f0002c"/>
<circle cx="556.5" cy="70.5" r="0.7" fill="#2b23db"/>
<circle cx="541.5" cy="70.5" r="0.7" fill="#074dea"/>
<circle cx="579.5" cy="70.5" r="0.7" fill="#e6003d"/>
<circle cx="559.5" cy="70.5" r="0.7" fill="#3f1bd3"/>
<circle cx="580.5" cy="70.5" r="0.7" fill="#f0002c"/>
<circle cx="565.5" cy="70.5" r="0.7" fill="#df0045"/>
<circle cx="561.5" cy="70.5" r="0.7" fill="#a30087"/>
<circle cx="569.5" cy="70.5" r="0.7" fill="#c10067"/>
<circle cx="566.5" cy="70.5" r="0.7" fill="#8301a8"/>
<circle cx="578.5" cy="70.5" r="0.7" fill="#d8004d"/>
<circle cx="552.5" cy="70.5" r="0.7" fill="#1c2fe0"/>
<circle cx="580.5" cy="70.5" r="0.7" fill="#e80039"/>
<circle cx="550.5" cy="70.5" r="0.7" fill="#074dea"/>
<circle cx="544.5" cy="70.5" r="0.7" fill="#074dea"/>
<circle cx="577.5" cy="70.5" r="0.7" fill="#ea0036"/>
<circle cx="577.5" cy="70.5" r="0.7" fill="#f0002c"/>
<circle cx="543.5" cy="70.5" r="0.7" fill="#074dea"/>
<circle cx="552.5" cy="70.5" r="0.7" fill="#0d3de4"/>
<circle cx="548.5" cy="70.5" r="0.7" fill="#074dea"/>
<circle cx="570.5" cy="70.5" r="0.7" fill="#c20066"/>
<circle cx="560.5" cy="70.5" r="0.7" fill="#620dc1"/>
<circle cx="539.5" cy="70.5" r="0.7" fill="#074dea"/>
<circle cx="542.5" cy="70.5" r="0.7" fill="#074dea"/>
<circle cx="575.5" cy="70.5" r="0.7" fill="#ce0058"/>
<circle cx="548.5" cy="70.5" r="0.7" fill="#074dea"/>
<circle cx="579.5" cy="70.5" r="0.7" fill="#f0002c"/>
<circle cx="537.5" cy="70.5" r="0.7" fill="#074dea"/>
<circle cx="577.5" cy="70.5" r="0.7" fill="#e90038"/>
<circle cx="537.5" cy="70.5" r="0.7" fill="#074dea"/>
<circle cx="574.5" cy="70.5" r="0.7" fill="#ee002f"/>
<circle cx="548.5" cy="70.5" r="0.7" fill="#074dea"/>
<circle cx="560.5" cy="70.5" r="0.7" fill="#91009a"/>
<circle cx="569.5" cy="70.5" r="0.7" fill="#d9004c"/>
<circle cx="557.5" cy="70.5" r="0.7" fill="#630cc0"/>
<circle cx="572.5" cy="70.5" r="0.7" fill="#b30076"/>
<circle cx="566.5" cy="70.5" r="0.7" fill="#8600a6"/>
<circle cx="548.5" cy="70.5" r="0.7" fill="#074dea"/>
<circle cx="542.5" cy="70.5" r="0.7" fill="#074dea"/>
<circle cx="563.5" cy="70.5" r="0.7" fill="#7b04ae"/>
<circle cx="564.5" cy="70.5" r="0.7" fill="#4617cf"/>
<circle cx="557.5" cy="70.5" r="0.7" fill="#a60084"/>
<circle cx="576.5" cy="70.5" r="0.7" fill="#e80039"/>
<circle cx="548.5" cy="70.5" r="0.7" fill="#074dea"/>
<circle cx="550.5" cy="70.5" r="0.7" fill="#074dea"/>
<circle cx="567.5" cy="70.5" r="0.7" fill="#a50085"/>
<circle cx="567.5" cy="70.5" r="0.7" fill="#e6003d"/>
<circle cx="538.5" cy="70.5" r="0.7" fill="#074dea"/>
<circle cx="567.5" cy="70.5" r="0.7" fill="#8401a7"/>
<circle cx="570.5" cy="70.5" r="0.7" fill="#cb005c"/>
<circle cx="580.5" cy="70.5" r="0.7" fill="#e90037"/>
<circle cx="547.5" cy="70.5" r="0.7" fill="#074dea"/>
<circle cx="550.5" cy="70.5" r="0.7" fill="#074dea"/>
<circle cx="545.5" cy="70.5" r="0.7" fill="#074dea"/>
<circle cx="566.5" cy="70.5" r="0.7" fill="#e6003c"/>
<circle cx="554.5" cy="70.5" r="0.7" fill="#1f2ddf"/>
<circle cx="543.5" cy="70.5" r="0.7" fill="#074dea"/>
<circle cx="554.5" cy="70.5" r="0.7" fill="#8002aa"/>
<circle cx="569.5" cy="70.5" r="0.7" fill="#ec0033"/>
<circle cx="551.5" cy="70.5" r="0.7" fill="#074dea"/>
<circle cx="570.5" cy="70.5" r="0.7" fill="#8301a8"/>
<circle cx="554.5" cy="70.5" r="0.7" fill="#2824dc"/>
<circle cx="544.5" cy="70.5" r="0.7" fill="#074dea"/>
<circle cx="552.5" cy="70.5" r="0.7" fill="#7905b0"/>
<circle cx="580.5" cy="70.5" r="0.7" fill="#e6003c"/>
<circle cx="573.5" cy="70.5" r="0.7" fill="#ed0031"/>
<circle cx="534.5" cy="70.5" r="0.7" fill="#074ae9"/>
<path d="M514.8 3.1V151.2H693.5" fill="none" stroke="#3a3a3a" stroke-width="0.7"/>
<line x1="514.8" y1="151.2" x2="514.8" y2="153.1" stroke="#3a3a3a" stroke-width="0.6"/>
<text x="514.80" y="159.90" font-size="6.3" fill="#1a1a1a" stroke="#1a1a1a" stroke-width="0.22" text-anchor="middle" textLength="3.50" lengthAdjust="spacingAndGlyphs" transform="rotate(0.03 514.80 159.90)">0</text>
<line x1="544.5" y1="151.2" x2="544.5" y2="153.1" stroke="#3a3a3a" stroke-width="0.6"/>
<text x="544.53" y="159.90" font-size="6.3" fill="#1a1a1a" stroke="#1a1a1a" stroke-width="0.22" text-anchor="middle" textLength="9.46" lengthAdjust="spacingAndGlyphs" transform="rotate(0.03 544.53 159.90)">100</text>
<line x1="574.3" y1="151.2" x2="574.3" y2="153.1" stroke="#3a3a3a" stroke-width="0.6"/>
<text x="574.26" y="159.90" font-size="6.3" fill="#1a1a1a" stroke="#1a1a1a" stroke-width="0.22" text-anchor="middle" textLength="9.46" lengthAdjust="spacingAndGlyphs" transform="rotate(0.03 574.26 159.90)">200</text>
<line x1="604.0" y1="151.2" x2="604.0" y2="153.1" stroke="#3a3a3a" stroke-width="0.6"/>
<text x="603.99" y="159.90" font-size="6.3" fill="#1a1a1a" stroke="#1a1a1a" stroke-width="0.22" text-anchor="middle" textLength="9.46" lengthAdjust="spacingAndGlyphs" transform="rotate(0.03 603.99 159.90)">300</text>
<line x1="633.7" y1="151.2" x2="633.7" y2="153.1" stroke="#3a3a3a" stroke-width="0.6"/>
<text x="633.72" y="159.90" font-size="6.3" fill="#1a1a1a" stroke="#1a1a1a" stroke-width="0.22" text-anchor="middle" textLength="9.46" lengthAdjust="spacingAndGlyphs" transform="rotate(0.03 633.72 159.90)">400</text>
<line x1="663.4" y1="151.2" x2="663.4" y2="153.1" stroke="#3a3a3a" stroke-width="0.6"/>
<text x="663.45" y="159.90" font-size="6.3" fill="#1a1a1a" stroke="#1a1a1a" stroke-width="0.22" text-anchor="middle" textLength="9.46" lengthAdjust="spacingAndGlyphs" transform="rotate(0.03 663.45 159.90)">500</text>
<line x1="693.2" y1="151.2" x2="693.2" y2="153.1" stroke="#3a3a3a" stroke-width="0.6"/>
<text x="693.18" y="159.90" font-size="6.3" fill="#1a1a1a" stroke="#1a1a1a" stroke-width="0.22" text-anchor="middle" textLength="9.46" lengthAdjust="spacingAndGlyphs" transform="rotate(0.03 693.18 159.90)">600</text>
<line x1="512.9" y1="3.4" x2="514.8" y2="3.4" stroke="#3a3a3a" stroke-width="0.6"/>
<text x="510.50" y="5.60" font-size="6.3" fill="#1a1a1a" stroke="#1a1a1a" stroke-width="0.22" text-anchor="end" textLength="11.40" lengthAdjust="spacingAndGlyphs" transform="rotate(0.03 510.50 5.60)">0.20</text>
<line x1="512.9" y1="28.0" x2="514.8" y2="28.0" stroke="#3a3a3a" stroke-width="0.6"/>
<text x="510.50" y="30.20" font-size="6.3" fill="#1a1a1a" stroke="#1a1a1a" stroke-width="0.22" text-anchor="end" textLength="11.40" lengthAdjust="spacingAndGlyphs" transform="rotate(0.03 510.50 30.20)">0.15</text>
<line x1="512.9" y1="52.6" x2="514.8" y2="52.6" stroke="#3a3a3a" stroke-width="0.6"/>
<text x="510.50" y="54.80" font-size="6.3" fill="#1a1a1a" stroke="#1a1a1a" stroke-width="0.22" text-anchor="end" textLength="11.40" lengthAdjust="spacingAndGlyphs" transform="rotate(0.03 510.50 54.80)">0.10</text>
<line x1="512.9" y1="77.2" x2="514.8" y2="77.2" stroke="#3a3a3a" stroke-width="0.6"/>
<text x="510.50" y="79.40" font-size="6.3" fill="#1a1a1a" stroke="#1a1a1a" stroke-width="0.22" text-anchor="end" textLength="11.40" lengthAdjust="spacingAndGlyphs" transform="rotate(0.03 510.50 79.40)">0.05</text>
<line x1="512.9" y1="101.8" x2="514.8" y2="101.8" stroke="#3a3a3a" stroke-width="0.6"/>
<text x="510.50" y="104.00" font-size="6.3" fill="#1a1a1a" stroke="#1a1a1a" stroke-width="0.22" text-anchor="end" textLength="11.40" lengthAdjust="spacingAndGlyphs" transform="rotate(0.03 510.50 104.00)">0.00</text>
<line x1="512.9" y1="126.4" x2="514.8" y2="126.4" stroke="#3a3a3a" stroke-width="0.6"/>
<text x="510.50" y="128.60" font-size="6.3" fill="#1a1a1a" stroke="#1a1a1a" stroke-width="0.22" text-anchor="end" textLength="13.35" lengthAdjust="spacingAndGlyphs" transform="rotate(0.03 510.50 128.60)">-0.05</text>
<line x1="512.9" y1="151.0" x2="514.8" y2="151.0" stroke="#3a3a3a" stroke-width="0.6"/>
<text x="510.50" y="153.20" font-size="6.3" fill="#1a1a1a" stroke="#1a1a1a" stroke-width="0.22" text-anchor="end" textLength="13.35" lengthAdjust="spacingAndGlyphs" transform="rotate(0.03 510.50 153.20)">-0.10</text>
<rect x="704.15" y="3.0" width="1.5" height="147.8" fill="url(#cbg)"/>
<line x1="705.6" y1="15.2" x2="707.8" y2="15.2" stroke="#3a3a3a" stroke-width="0.6"/>
<text x="710.20" y="17.40" font-size="6.3" fill="#1a1a1a" stroke="#1a1a1a" stroke-width="0.22" textLength="9.77" lengthAdjust="spacingAndGlyphs" transform="rotate(0.03 710.20 17.40)">160</text>
<line x1="705.6" y1="39.8" x2="707.8" y2="39.8" stroke="#3a3a3a" stroke-width="0.6"/>
<text x="710.20" y="41.95" font-size="6.3" fill="#1a1a1a" stroke="#1a1a1a" stroke-width="0.22" textLength="9.77" lengthAdjust="spacingAndGlyphs" transform="rotate(0.03 710.20 41.95)">140</text>
<line x1="705.6" y1="64.3" x2="707.8" y2="64.3" stroke="#3a3a3a" stroke-width="0.6"/>
<text x="710.20" y="66.50" font-size="6.3" fill="#1a1a1a" stroke="#1a1a1a" stroke-width="0.22" textLength="9.77" lengthAdjust="spacingAndGlyphs" transform="rotate(0.03 710.20 66.50)">120</text>
<line x1="705.6" y1="88.9" x2="707.8" y2="88.9" stroke="#3a3a3a" stroke-width="0.6"/>
<text x="710.20" y="91.05" font-size="6.3" fill="#1a1a1a" stroke="#1a1a1a" stroke-width="0.22" textLength="9.77" lengthAdjust="spacingAndGlyphs" transform="rotate(0.03 710.20 91.05)">100</text>
<line x1="705.6" y1="113.4" x2="707.8" y2="113.4" stroke="#3a3a3a" stroke-width="0.6"/>
<text x="710.20" y="115.60" font-size="6.3" fill="#1a1a1a" stroke="#1a1a1a" stroke-width="0.22" textLength="6.52" lengthAdjust="spacingAndGlyphs" transform="rotate(0.03 710.20 115.60)">80</text>
<line x1="705.6" y1="137.9" x2="707.8" y2="137.9" stroke="#3a3a3a" stroke-width="0.6"/>
<text x="710.20" y="140.15" font-size="6.3" fill="#1a1a1a" stroke="#1a1a1a" stroke-width="0.22" textLength="6.52" lengthAdjust="spacingAndGlyphs" transform="rotate(0.03 710.20 140.15)">60</text>
<text x="727.20" y="76.90" font-size="6.9" fill="#1a1a1a" stroke="#1a1a1a" stroke-width="0.1" text-anchor="middle" textLength="44.50" lengthAdjust="spacingAndGlyphs" transform="rotate(-90.03 727.20 76.90)">ACC duration</text>
<text x="573.70" y="168.90" font-size="7.3" fill="#1a1a1a" stroke="#1a1a1a" stroke-width="0.22" textLength="6.20" lengthAdjust="spacingAndGlyphs" transform="rotate(0.03 573.70 168.90)">D.</text>
<text x="581.30" y="168.90" font-size="7.4" fill="#1a1a1a" stroke="#1a1a1a" stroke-width="0.22" textLength="44.40" lengthAdjust="spacingAndGlyphs" transform="rotate(0.03 581.30 168.90)">CPB duration</text>
<text x="484.20" y="77.70" font-size="6.9" fill="#1a1a1a" stroke="#1a1a1a" stroke-width="0.1" text-anchor="middle" textLength="49.20" lengthAdjust="spacingAndGlyphs" transform="rotate(-90.03 484.20 77.70)">SHAP value for</text>
<text x="492.00" y="77.50" font-size="6.9" fill="#1a1a1a" stroke="#1a1a1a" stroke-width="0.1" text-anchor="middle" textLength="42.80" lengthAdjust="spacingAndGlyphs" transform="rotate(-90.03 492.00 77.50)">CPB duration</text>
</g>
<g id="E">
<path d="M515.0 328.9V328.0H568.3V323.2H586.1V300.0H603.9V284.1H621.7V288.3H639.5V312.8H657.3V326.0H693.0V328.9Z" fill="#dedede"/>
<line x1="514.9" y1="181.5" x2="693.0" y2="181.5" stroke="#dcdcdc" stroke-width="0.6" stroke-dasharray="0.8 0.8"/>
<circle cx="619.5" cy="196.5" r="0.7" fill="#074ae9"/>
<circle cx="613.5" cy="209.5" r="0.7" fill="#0747e8"/>
<circle cx="607.5" cy="225.5" r="0.7" fill="#7f03ab"/>
<circle cx="630.5" cy="222.5" r="0.7" fill="#940098"/>
<circle cx="594.5" cy="230.5" r="0.7" fill="#074ae9"/>
<circle cx="599.5" cy="230.5" r="0.7" fill="#074ae9"/>
<circle cx="605.5" cy="230.5" r="0.7" fill="#074ae9"/>
<circle cx="609.5" cy="230.5" r="0.7" fill="#074ae9"/>
<circle cx="611.5" cy="230.5" r="0.7" fill="#074ae9"/>
<circle cx="612.5" cy="230.5" r="0.7" fill="#074ae9"/>
<circle cx="614.5" cy="230.5" r="0.7" fill="#074ae9"/>
<circle cx="624.5" cy="230.5" r="0.7" fill="#074ae9"/>
<circle cx="630.5" cy="230.5" r="0.7" fill="#074ae9"/>
<circle cx="631.5" cy="230.5" r="0.7" fill="#074ae9"/>
<circle cx="636.5" cy="230.5" r="0.7" fill="#074ae9"/>
<circle cx="644.5" cy="230.5" r="0.7" fill="#074ae9"/>
<circle cx="656.5" cy="230.5" r="0.7" fill="#074ae9"/>
<circle cx="657.5" cy="230.5" r="0.7" fill="#074ae9"/>
<circle cx="613.5" cy="233.5" r="0.7" fill="#074ae9"/>
<circle cx="626.5" cy="233.5" r="0.7" fill="#074ae9"/>
<circle cx="628.5" cy="233.5" r="0.7" fill="#0842e6"/>
<circle cx="631.5" cy="233.5" r="0.7" fill="#074ae9"/>
<circle cx="591.5" cy="237.5" r="0.7" fill="#074ae9"/>
<circle cx="590.5" cy="240.5" r="0.7" fill="#074ae9"/>
<circle cx="570.5" cy="240.5" r="0.7" fill="#074dea"/>
<circle cx="629.5" cy="236.5" r="0.7" fill="#074ae9"/>
<circle cx="633.5" cy="240.5" r="0.7" fill="#074ae9"/>
<circle cx="643.5" cy="236.5" r="0.7" fill="#6c09b9"/>
<circle cx="654.5" cy="236.5" r="0.7" fill="#f0002c"/>
<circle cx="584.5" cy="244.5" r="0.7" fill="#7f03ab"/>
<circle cx="626.5" cy="246.5" r="0.7" fill="#7f03ab"/>
<circle cx="638.5" cy="246.5" r="0.7" fill="#940098"/>
<circle cx="578.5" cy="256.5" r="0.7" fill="#940098"/>
<circle cx="596.5" cy="257.5" r="0.7" fill="#074ae9"/>
<circle cx="619.5" cy="257.5" r="0.7" fill="#6c09b9"/>
<circle cx="624.5" cy="257.5" r="0.7" fill="#0747e8"/>
<circle cx="633.5" cy="256.5" r="0.7" fill="#6c09b9"/>
<circle cx="637.5" cy="257.5" r="0.7" fill="#7f03ab"/>
<circle cx="640.5" cy="255.5" r="0.7" fill="#940098"/>
<circle cx="678.5" cy="257.5" r="0.7" fill="#5810c8"/>
<circle cx="625.5" cy="261.5" r="0.7" fill="#6c09b9"/>
<circle cx="605.5" cy="266.5" r="0.7" fill="#074ae9"/>
<circle cx="615.5" cy="266.5" r="0.7" fill="#0842e6"/>
<circle cx="621.5" cy="265.5" r="0.7" fill="#074ae9"/>
<circle cx="642.5" cy="266.5" r="0.7" fill="#6c09b9"/>
<circle cx="600.5" cy="268.5" r="0.7" fill="#074ae9"/>
<circle cx="620.5" cy="268.5" r="0.7" fill="#074ae9"/>
<circle cx="583.5" cy="270.5" r="0.7" fill="#074ae9"/>
<circle cx="597.5" cy="271.5" r="0.7" fill="#074ae9"/>
<circle cx="616.5" cy="286.5" r="0.7" fill="#074ae9"/>
<circle cx="525.5" cy="266.5" r="0.7" fill="#e7003c"/>
<circle cx="556.5" cy="255.5" r="0.7" fill="#074ae9"/>
<circle cx="688.5" cy="266.5" r="0.7" fill="#940098"/>
<circle cx="588.5" cy="250.5" r="0.7" fill="#074ae9"/>
<circle cx="597.5" cy="250.5" r="0.7" fill="#f0002c"/>
<circle cx="599.5" cy="250.5" r="0.7" fill="#f0002c"/>
<circle cx="600.5" cy="250.5" r="0.7" fill="#074ae9"/>
<circle cx="610.5" cy="250.5" r="0.7" fill="#0842e6"/>
<circle cx="612.5" cy="250.5" r="0.7" fill="#074ae9"/>
<circle cx="614.5" cy="250.5" r="0.7" fill="#074ae9"/>
<circle cx="618.5" cy="250.5" r="0.7" fill="#f0002c"/>
<circle cx="620.5" cy="250.5" r="0.7" fill="#f0002c"/>
<circle cx="622.5" cy="250.5" r="0.7" fill="#f0002c"/>
<circle cx="624.5" cy="250.5" r="0.7" fill="#4418d0"/>
<circle cx="631.5" cy="250.5" r="0.7" fill="#074ae9"/>
<circle cx="634.5" cy="250.5" r="0.7" fill="#0842e6"/>
<circle cx="636.5" cy="250.5" r="0.7" fill="#f0002c"/>
<circle cx="653.5" cy="250.5" r="0.7" fill="#074ae9"/>
<circle cx="654.5" cy="250.5" r="0.7" fill="#0842e6"/>
<circle cx="586.5" cy="253.5" r="0.7" fill="#074ae9"/>
<circle cx="587.5" cy="253.5" r="0.7" fill="#074ae9"/>
<circle cx="596.5" cy="253.5" r="0.7" fill="#0842e6"/>
<circle cx="598.5" cy="253.5" r="0.7" fill="#f0002c"/>
<circle cx="600.5" cy="253.5" r="0.7" fill="#f0002c"/>
<circle cx="602.5" cy="253.5" r="0.7" fill="#074ae9"/>
<circle cx="604.5" cy="253.5" r="0.7" fill="#113ae3"/>
<circle cx="610.5" cy="253.5" r="0.7" fill="#074ae9"/>
<circle cx="612.5" cy="253.5" r="0.7" fill="#0842e6"/>
<circle cx="613.5" cy="253.5" r="0.7" fill="#074ae9"/>
<circle cx="616.5" cy="253.5" r="0.7" fill="#f0002c"/>
<circle cx="618.5" cy="253.5" r="0.7" fill="#f0002c"/>
<circle cx="622.5" cy="253.5" r="0.7" fill="#f0002c"/>
<circle cx="626.5" cy="253.5" r="0.7" fill="#ea0037"/>
<circle cx="630.5" cy="253.5" r="0.7" fill="#2329de"/>
<circle cx="645.5" cy="253.5" r="0.7" fill="#7f03ab"/>
<circle cx="650.5" cy="253.5" r="0.7" fill="#7f03ab"/>
<circle cx="657.5" cy="253.5" r="0.7" fill="#7f03ab"/>
<path d="M514.9 181.0V328.9H693.3" fill="none" stroke="#3a3a3a" stroke-width="0.7"/>
<line x1="514.9" y1="328.9" x2="514.9" y2="330.8" stroke="#3a3a3a" stroke-width="0.6"/>
<text x="514.90" y="337.60" font-size="6.3" fill="#1a1a1a" stroke="#1a1a1a" stroke-width="0.22" text-anchor="middle" textLength="7.88" lengthAdjust="spacingAndGlyphs" transform="rotate(0.03 514.90 337.60)">7.1</text>
<line x1="550.5" y1="328.9" x2="550.5" y2="330.8" stroke="#3a3a3a" stroke-width="0.6"/>
<text x="550.52" y="337.60" font-size="6.3" fill="#1a1a1a" stroke="#1a1a1a" stroke-width="0.22" text-anchor="middle" textLength="7.88" lengthAdjust="spacingAndGlyphs" transform="rotate(0.03 550.52 337.60)">7.2</text>
<line x1="586.1" y1="328.9" x2="586.1" y2="330.8" stroke="#3a3a3a" stroke-width="0.6"/>
<text x="586.14" y="337.60" font-size="6.3" fill="#1a1a1a" stroke="#1a1a1a" stroke-width="0.22" text-anchor="middle" textLength="7.88" lengthAdjust="spacingAndGlyphs" transform="rotate(0.03 586.14 337.60)">7.3</text>
<line x1="621.8" y1="328.9" x2="621.8" y2="330.8" stroke="#3a3a3a" stroke-width="0.6"/>
<text x="621.76" y="337.60" font-size="6.3" fill="#1a1a1a" stroke="#1a1a1a" stroke-width="0.22" text-anchor="middle" textLength="7.88" lengthAdjust="spacingAndGlyphs" transform="rotate(0.03 621.76 337.60)">7.4</text>
<line x1="657.4" y1="328.9" x2="657.4" y2="330.8" stroke="#3a3a3a" stroke-width="0.6"/>
<text x="657.38" y="337.60" font-size="6.3" fill="#1a1a1a" stroke="#1a1a1a" stroke-width="0.22" text-anchor="middle" textLength="7.88" lengthAdjust="spacingAndGlyphs" transform="rotate(0.03 657.38 337.60)">7.5</text>
<line x1="693.0" y1="328.9" x2="693.0" y2="330.8" stroke="#3a3a3a" stroke-width="0.6"/>
<text x="693.00" y="337.60" font-size="6.3" fill="#1a1a1a" stroke="#1a1a1a" stroke-width="0.22" text-anchor="middle" textLength="7.88" lengthAdjust="spacingAndGlyphs" transform="rotate(0.03 693.00 337.60)">7.6</text>
<line x1="513.0" y1="181.3" x2="514.9" y2="181.3" stroke="#3a3a3a" stroke-width="0.6"/>
<text x="510.60" y="183.50" font-size="6.3" fill="#1a1a1a" stroke="#1a1a1a" stroke-width="0.22" text-anchor="end" textLength="11.40" lengthAdjust="spacingAndGlyphs" transform="rotate(0.03 510.60 183.50)">0.00</text>
<line x1="513.0" y1="210.8" x2="514.9" y2="210.8" stroke="#3a3a3a" stroke-width="0.6"/>
<text x="510.60" y="213.00" font-size="6.3" fill="#1a1a1a" stroke="#1a1a1a" stroke-width="0.22" text-anchor="end" textLength="13.35" lengthAdjust="spacingAndGlyphs" transform="rotate(0.03 510.60 213.00)">-0.01</text>
<line x1="513.0" y1="240.3" x2="514.9" y2="240.3" stroke="#3a3a3a" stroke-width="0.6"/>
<text x="510.60" y="242.50" font-size="6.3" fill="#1a1a1a" stroke="#1a1a1a" stroke-width="0.22" text-anchor="end" textLength="13.35" lengthAdjust="spacingAndGlyphs" transform="rotate(0.03 510.60 242.50)">-0.02</text>
<line x1="513.0" y1="269.8" x2="514.9" y2="269.8" stroke="#3a3a3a" stroke-width="0.6"/>
<text x="510.60" y="272.00" font-size="6.3" fill="#1a1a1a" stroke="#1a1a1a" stroke-width="0.22" text-anchor="end" textLength="13.35" lengthAdjust="spacingAndGlyphs" transform="rotate(0.03 510.60 272.00)">-0.03</text>
<line x1="513.0" y1="299.3" x2="514.9" y2="299.3" stroke="#3a3a3a" stroke-width="0.6"/>
<text x="510.60" y="301.50" font-size="6.3" fill="#1a1a1a" stroke="#1a1a1a" stroke-width="0.22" text-anchor="end" textLength="13.35" lengthAdjust="spacingAndGlyphs" transform="rotate(0.03 510.60 301.50)">-0.04</text>
<line x1="513.0" y1="328.8" x2="514.9" y2="328.8" stroke="#3a3a3a" stroke-width="0.6"/>
<text x="510.60" y="331.00" font-size="6.3" fill="#1a1a1a" stroke="#1a1a1a" stroke-width="0.22" text-anchor="end" textLength="13.35" lengthAdjust="spacingAndGlyphs" transform="rotate(0.03 510.60 331.00)">-0.05</text>
<rect x="704.15" y="181.0" width="1.5" height="147.6" fill="url(#cbg)"/>
<line x1="705.6" y1="191.2" x2="707.8" y2="191.2" stroke="#3a3a3a" stroke-width="0.6"/>
<text x="710.20" y="193.40" font-size="6.3" fill="#1a1a1a" stroke="#1a1a1a" stroke-width="0.22" textLength="9.77" lengthAdjust="spacingAndGlyphs" transform="rotate(0.03 710.20 193.40)">200</text>
<line x1="705.6" y1="208.7" x2="707.8" y2="208.7" stroke="#3a3a3a" stroke-width="0.6"/>
<text x="710.20" y="210.92" font-size="6.3" fill="#1a1a1a" stroke="#1a1a1a" stroke-width="0.22" textLength="9.77" lengthAdjust="spacingAndGlyphs" transform="rotate(0.03 710.20 210.92)">180</text>
<line x1="705.6" y1="226.2" x2="707.8" y2="226.2" stroke="#3a3a3a" stroke-width="0.6"/>
<text x="710.20" y="228.44" font-size="6.3" fill="#1a1a1a" stroke="#1a1a1a" stroke-width="0.22" textLength="9.77" lengthAdjust="spacingAndGlyphs" transform="rotate(0.03 710.20 228.44)">160</text>
<line x1="705.6" y1="243.8" x2="707.8" y2="243.8" stroke="#3a3a3a" stroke-width="0.6"/>
<text x="710.20" y="245.96" font-size="6.3" fill="#1a1a1a" stroke="#1a1a1a" stroke-width="0.22" textLength="9.77" lengthAdjust="spacingAndGlyphs" transform="rotate(0.03 710.20 245.96)">140</text>
<line x1="705.6" y1="261.3" x2="707.8" y2="261.3" stroke="#3a3a3a" stroke-width="0.6"/>
<text x="710.20" y="263.48" font-size="6.3" fill="#1a1a1a" stroke="#1a1a1a" stroke-width="0.22" textLength="9.77" lengthAdjust="spacingAndGlyphs" transform="rotate(0.03 710.20 263.48)">120</text>
<line x1="705.6" y1="278.8" x2="707.8" y2="278.8" stroke="#3a3a3a" stroke-width="0.6"/>
<text x="710.20" y="281.00" font-size="6.3" fill="#1a1a1a" stroke="#1a1a1a" stroke-width="0.22" textLength="9.77" lengthAdjust="spacingAndGlyphs" transform="rotate(0.03 710.20 281.00)">100</text>
<line x1="705.6" y1="296.3" x2="707.8" y2="296.3" stroke="#3a3a3a" stroke-width="0.6"/>
<text x="710.20" y="298.52" font-size="6.3" fill="#1a1a1a" stroke="#1a1a1a" stroke-width="0.22" textLength="6.52" lengthAdjust="spacingAndGlyphs" transform="rotate(0.03 710.20 298.52)">80</text>
<line x1="705.6" y1="313.8" x2="707.8" y2="313.8" stroke="#3a3a3a" stroke-width="0.6"/>
<text x="710.20" y="316.04" font-size="6.3" fill="#1a1a1a" stroke="#1a1a1a" stroke-width="0.22" textLength="6.52" lengthAdjust="spacingAndGlyphs" transform="rotate(0.03 710.20 316.04)">60</text>
<text x="726.40" y="254.80" font-size="6.9" fill="#1a1a1a" stroke="#1a1a1a" stroke-width="0.1" text-anchor="middle" textLength="56.00" lengthAdjust="spacingAndGlyphs" transform="rotate(-90.03 726.40 254.80)">Serum creatinine</text>
<text x="591.00" y="346.90" font-size="7.3" fill="#1a1a1a" stroke="#1a1a1a" stroke-width="0.22" textLength="5.80" lengthAdjust="spacingAndGlyphs" transform="rotate(0.03 591.00 346.90)">E.</text>
<text x="599.60" y="346.90" font-size="7.4" fill="#1a1a1a" stroke="#1a1a1a" stroke-width="0.22" textLength="9.20" lengthAdjust="spacingAndGlyphs" transform="rotate(0.03 599.60 346.90)">PH</text>
<text x="484.30" y="255.80" font-size="6.9" fill="#1a1a1a" stroke="#1a1a1a" stroke-width="0.1" text-anchor="middle" textLength="49.20" lengthAdjust="spacingAndGlyphs" transform="rotate(-90.03 484.30 255.80)">SHAP value for</text>
<text x="492.20" y="256.00" font-size="6.9" fill="#1a1a1a" stroke="#1a1a1a" stroke-width="0.1" text-anchor="middle" textLength="8.60" lengthAdjust="spacingAndGlyphs" transform="rotate(-90.03 492.20 256.00)">PH</text>
</g>
<g id="F">
<path d="M568.1 505.6V501.2H585.9V482.6H603.7V436.8H621.5V481.4H639.3V486.8H657.2V501.7H675.0V503.5H692.8V505.6Z" fill="#dedede"/>
<circle cx="578.5" cy="420.5" r="0.7" fill="#6c09b9"/>
<circle cx="590.5" cy="417.5" r="0.7" fill="#ea0037"/>
<circle cx="601.5" cy="413.5" r="0.7" fill="#ea0037"/>
<circle cx="609.5" cy="410.5" r="0.7" fill="#074ae9"/>
<circle cx="627.5" cy="412.5" r="0.7" fill="#074ae9"/>
<circle cx="627.5" cy="414.5" r="0.7" fill="#0747e8"/>
<circle cx="642.5" cy="409.5" r="0.7" fill="#0842e6"/>
<circle cx="639.5" cy="414.5" r="0.7" fill="#074ae9"/>
<circle cx="641.5" cy="415.5" r="0.7" fill="#6c09b9"/>
<circle cx="649.5" cy="415.5" r="0.7" fill="#0842e6"/>
<circle cx="664.5" cy="415.5" r="0.7" fill="#e7003c"/>
<circle cx="662.5" cy="420.5" r="0.7" fill="#6c09b9"/>
<circle cx="674.5" cy="418.5" r="0.7" fill="#ea0037"/>
<circle cx="679.5" cy="427.5" r="0.7" fill="#ea0037"/>
<circle cx="683.5" cy="426.5" r="0.7" fill="#074ae9"/>
<circle cx="622.5" cy="429.5" r="0.7" fill="#0842e6"/>
<circle cx="621.5" cy="431.5" r="0.7" fill="#113ae3"/>
<circle cx="609.5" cy="442.5" r="0.7" fill="#074ae9"/>
<circle cx="622.5" cy="455.5" r="0.7" fill="#ed0031"/>
<circle cx="632.5" cy="459.5" r="0.7" fill="#2329de"/>
<circle cx="640.5" cy="428.5" r="0.7" fill="#0842e6"/>
<circle cx="651.5" cy="427.5" r="0.7" fill="#ea0037"/>
<circle cx="645.5" cy="425.5" r="0.7" fill="#6c09b9"/>
<circle cx="597.5" cy="418.5" r="0.7" fill="#ea0037"/>
<circle cx="598.5" cy="419.5" r="0.7" fill="#6c09b9"/>
<circle cx="603.5" cy="419.5" r="0.7" fill="#ea0037"/>
<circle cx="604.5" cy="420.5" r="0.7" fill="#2329de"/>
<circle cx="608.5" cy="418.5" r="0.7" fill="#074ae9"/>
<circle cx="609.5" cy="419.5" r="0.7" fill="#0842e6"/>
<circle cx="609.5" cy="420.5" r="0.7" fill="#074ae9"/>
<circle cx="611.5" cy="418.5" r="0.7" fill="#113ae3"/>
<circle cx="613.5" cy="419.5" r="0.7" fill="#074ae9"/>
<circle cx="614.5" cy="419.5" r="0.7" fill="#074ae9"/>
<circle cx="616.5" cy="419.5" r="0.7" fill="#0842e6"/>
<circle cx="617.5" cy="418.5" r="0.7" fill="#074ae9"/>
<circle cx="627.5" cy="418.5" r="0.7" fill="#074ae9"/>
<circle cx="635.5" cy="418.5" r="0.7" fill="#0842e6"/>
<circle cx="637.5" cy="420.5" r="0.7" fill="#074ae9"/>
<circle cx="638.5" cy="419.5" r="0.7" fill="#113ae3"/>
<circle cx="639.5" cy="419.5" r="0.7" fill="#074ae9"/>
<circle cx="641.5" cy="420.5" r="0.7" fill="#ea0037"/>
<circle cx="644.5" cy="419.5" r="0.7" fill="#6c09b9"/>
<circle cx="645.5" cy="419.5" r="0.7" fill="#0842e6"/>
<circle cx="591.5" cy="423.5" r="0.7" fill="#6c09b9"/>
<circle cx="595.5" cy="423.5" r="0.7" fill="#ea0037"/>
<circle cx="597.5" cy="423.5" r="0.7" fill="#ea0037"/>
<circle cx="606.5" cy="423.5" r="0.7" fill="#074ae9"/>
<circle cx="608.5" cy="423.5" r="0.7" fill="#0842e6"/>
<circle cx="609.5" cy="423.5" r="0.7" fill="#074ae9"/>
<circle cx="613.5" cy="423.5" r="0.7" fill="#074ae9"/>
<circle cx="614.5" cy="423.5" r="0.7" fill="#0842e6"/>
<circle cx="632.5" cy="423.5" r="0.7" fill="#ed0031"/>
<circle cx="635.5" cy="423.5" r="0.7" fill="#ed0031"/>
<circle cx="649.5" cy="423.5" r="0.7" fill="#7f03ab"/>
<circle cx="624.5" cy="425.5" r="0.7" fill="#074ae9"/>
<circle cx="606.5" cy="421.5" r="0.7" fill="#6c09b9"/>
<circle cx="607.5" cy="425.5" r="0.7" fill="#0842e6"/>
<circle cx="600.5" cy="420.5" r="0.7" fill="#0842e6"/>
<circle cx="612.5" cy="423.5" r="0.7" fill="#ea0037"/>
<circle cx="620.5" cy="423.5" r="0.7" fill="#2329de"/>
<circle cx="603.5" cy="423.5" r="0.7" fill="#113ae3"/>
<circle cx="600.5" cy="421.5" r="0.7" fill="#113ae3"/>
<circle cx="615.5" cy="421.5" r="0.7" fill="#7f03ab"/>
<circle cx="611.5" cy="425.5" r="0.7" fill="#0842e6"/>
<circle cx="613.5" cy="423.5" r="0.7" fill="#113ae3"/>
<circle cx="606.5" cy="418.5" r="0.7" fill="#074ae9"/>
<circle cx="612.5" cy="425.5" r="0.7" fill="#7f03ab"/>
<circle cx="604.5" cy="423.5" r="0.7" fill="#0842e6"/>
<circle cx="625.5" cy="421.5" r="0.7" fill="#0842e6"/>
<circle cx="605.5" cy="423.5" r="0.7" fill="#2329de"/>
<circle cx="625.5" cy="423.5" r="0.7" fill="#113ae3"/>
<circle cx="606.5" cy="423.5" r="0.7" fill="#2329de"/>
<circle cx="616.5" cy="420.5" r="0.7" fill="#0842e6"/>
<circle cx="620.5" cy="421.5" r="0.7" fill="#6c09b9"/>
<circle cx="607.5" cy="421.5" r="0.7" fill="#7f03ab"/>
<circle cx="606.5" cy="421.5" r="0.7" fill="#5810c8"/>
<circle cx="581.5" cy="427.5" r="0.7" fill="#5810c8"/>
<circle cx="582.5" cy="427.5" r="0.7" fill="#4418d0"/>
<circle cx="584.5" cy="426.5" r="0.7" fill="#2329de"/>
<circle cx="586.5" cy="427.5" r="0.7" fill="#5810c8"/>
<circle cx="587.5" cy="427.5" r="0.7" fill="#074ae9"/>
<circle cx="589.5" cy="427.5" r="0.7" fill="#074ae9"/>
<circle cx="590.5" cy="427.5" r="0.7" fill="#074ae9"/>
<circle cx="591.5" cy="426.5" r="0.7" fill="#2329de"/>
<circle cx="592.5" cy="426.5" r="0.7" fill="#4418d0"/>
<circle cx="594.5" cy="427.5" r="0.7" fill="#940098"/>
<circle cx="595.5" cy="427.5" r="0.7" fill="#074ae9"/>
<circle cx="596.5" cy="427.5" r="0.7" fill="#e7003c"/>
<circle cx="598.5" cy="427.5" r="0.7" fill="#4418d0"/>
<circle cx="599.5" cy="427.5" r="0.7" fill="#ea0037"/>
<circle cx="600.5" cy="427.5" r="0.7" fill="#5810c8"/>
<circle cx="602.5" cy="426.5" r="0.7" fill="#e7003c"/>
<circle cx="603.5" cy="427.5" r="0.7" fill="#0842e6"/>
<circle cx="604.5" cy="427.5" r="0.7" fill="#4418d0"/>
<circle cx="605.5" cy="427.5" r="0.7" fill="#074ae9"/>
<circle cx="607.5" cy="426.5" r="0.7" fill="#940098"/>
<circle cx="609.5" cy="427.5" r="0.7" fill="#6c09b9"/>
<circle cx="610.5" cy="426.5" r="0.7" fill="#6c09b9"/>
<circle cx="611.5" cy="427.5" r="0.7" fill="#2329de"/>
<circle cx="613.5" cy="427.5" r="0.7" fill="#ea0037"/>
<circle cx="614.5" cy="427.5" r="0.7" fill="#0842e6"/>
<circle cx="615.5" cy="426.5" r="0.7" fill="#0842e6"/>
<circle cx="617.5" cy="427.5" r="0.7" fill="#074ae9"/>
<circle cx="618.5" cy="426.5" r="0.7" fill="#6c09b9"/>
<circle cx="619.5" cy="427.5" r="0.7" fill="#074ae9"/>
<circle cx="621.5" cy="427.5" r="0.7" fill="#6c09b9"/>
<circle cx="625.5" cy="427.5" r="0.7" fill="#113ae3"/>
<circle cx="627.5" cy="427.5" r="0.7" fill="#113ae3"/>
<circle cx="629.5" cy="427.5" r="0.7" fill="#113ae3"/>
<path d="M514.6 357.9V505.6H693.1" fill="none" stroke="#3a3a3a" stroke-width="0.7"/>
<line x1="514.6" y1="505.6" x2="514.6" y2="507.5" stroke="#3a3a3a" stroke-width="0.6"/>
<text x="514.60" y="514.30" font-size="6.3" fill="#1a1a1a" stroke="#1a1a1a" stroke-width="0.22" text-anchor="middle" textLength="3.50" lengthAdjust="spacingAndGlyphs" transform="rotate(0.03 514.60 514.30)">0</text>
<line x1="550.2" y1="505.6" x2="550.2" y2="507.5" stroke="#3a3a3a" stroke-width="0.6"/>
<text x="550.24" y="514.30" font-size="6.3" fill="#1a1a1a" stroke="#1a1a1a" stroke-width="0.22" text-anchor="middle" textLength="6.31" lengthAdjust="spacingAndGlyphs" transform="rotate(0.03 550.24 514.30)">20</text>
<line x1="585.9" y1="505.6" x2="585.9" y2="507.5" stroke="#3a3a3a" stroke-width="0.6"/>
<text x="585.88" y="514.30" font-size="6.3" fill="#1a1a1a" stroke="#1a1a1a" stroke-width="0.22" text-anchor="middle" textLength="6.31" lengthAdjust="spacingAndGlyphs" transform="rotate(0.03 585.88 514.30)">40</text>
<line x1="621.5" y1="505.6" x2="621.5" y2="507.5" stroke="#3a3a3a" stroke-width="0.6"/>
<text x="621.52" y="514.30" font-size="6.3" fill="#1a1a1a" stroke="#1a1a1a" stroke-width="0.22" text-anchor="middle" textLength="6.31" lengthAdjust="spacingAndGlyphs" transform="rotate(0.03 621.52 514.30)">60</text>
<line x1="657.2" y1="505.6" x2="657.2" y2="507.5" stroke="#3a3a3a" stroke-width="0.6"/>
<text x="657.16" y="514.30" font-size="6.3" fill="#1a1a1a" stroke="#1a1a1a" stroke-width="0.22" text-anchor="middle" textLength="6.31" lengthAdjust="spacingAndGlyphs" transform="rotate(0.03 657.16 514.30)">80</text>
<line x1="692.8" y1="505.6" x2="692.8" y2="507.5" stroke="#3a3a3a" stroke-width="0.6"/>
<text x="692.80" y="514.30" font-size="6.3" fill="#1a1a1a" stroke="#1a1a1a" stroke-width="0.22" text-anchor="middle" textLength="9.46" lengthAdjust="spacingAndGlyphs" transform="rotate(0.03 692.80 514.30)">100</text>
<line x1="512.7" y1="358.2" x2="514.6" y2="358.2" stroke="#3a3a3a" stroke-width="0.6"/>
<text x="510.30" y="360.40" font-size="6.3" fill="#1a1a1a" stroke="#1a1a1a" stroke-width="0.22" text-anchor="end" textLength="11.40" lengthAdjust="spacingAndGlyphs" transform="rotate(0.03 510.30 360.40)">0.05</text>
<line x1="512.7" y1="387.7" x2="514.6" y2="387.7" stroke="#3a3a3a" stroke-width="0.6"/>
<text x="510.30" y="389.88" font-size="6.3" fill="#1a1a1a" stroke="#1a1a1a" stroke-width="0.22" text-anchor="end" textLength="11.40" lengthAdjust="spacingAndGlyphs" transform="rotate(0.03 510.30 389.88)">0.04</text>
<line x1="512.7" y1="417.2" x2="514.6" y2="417.2" stroke="#3a3a3a" stroke-width="0.6"/>
<text x="510.30" y="419.36" font-size="6.3" fill="#1a1a1a" stroke="#1a1a1a" stroke-width="0.22" text-anchor="end" textLength="11.40" lengthAdjust="spacingAndGlyphs" transform="rotate(0.03 510.30 419.36)">0.03</text>
<line x1="512.7" y1="446.6" x2="514.6" y2="446.6" stroke="#3a3a3a" stroke-width="0.6"/>
<text x="510.30" y="448.84" font-size="6.3" fill="#1a1a1a" stroke="#1a1a1a" stroke-width="0.22" text-anchor="end" textLength="11.40" lengthAdjust="spacingAndGlyphs" transform="rotate(0.03 510.30 448.84)">0.02</text>
<line x1="512.7" y1="476.1" x2="514.6" y2="476.1" stroke="#3a3a3a" stroke-width="0.6"/>
<text x="510.30" y="478.32" font-size="6.3" fill="#1a1a1a" stroke="#1a1a1a" stroke-width="0.22" text-anchor="end" textLength="11.40" lengthAdjust="spacingAndGlyphs" transform="rotate(0.03 510.30 478.32)">0.01</text>
<line x1="512.7" y1="505.6" x2="514.6" y2="505.6" stroke="#3a3a3a" stroke-width="0.6"/>
<text x="510.30" y="507.80" font-size="6.3" fill="#1a1a1a" stroke="#1a1a1a" stroke-width="0.22" text-anchor="end" textLength="11.40" lengthAdjust="spacingAndGlyphs" transform="rotate(0.03 510.30 507.80)">0.00</text>
<rect x="704.15" y="358.0" width="1.5" height="146.8" fill="url(#cbg)"/>
<line x1="705.6" y1="381.3" x2="707.8" y2="381.3" stroke="#3a3a3a" stroke-width="0.6"/>
<text x="710.20" y="383.50" font-size="6.3" fill="#1a1a1a" stroke="#1a1a1a" stroke-width="0.22" textLength="6.52" lengthAdjust="spacingAndGlyphs" transform="rotate(0.03 710.20 383.50)">14</text>
<line x1="705.6" y1="405.8" x2="707.8" y2="405.8" stroke="#3a3a3a" stroke-width="0.6"/>
<text x="710.20" y="407.95" font-size="6.3" fill="#1a1a1a" stroke="#1a1a1a" stroke-width="0.22" textLength="6.52" lengthAdjust="spacingAndGlyphs" transform="rotate(0.03 710.20 407.95)">12</text>
<line x1="705.6" y1="430.2" x2="707.8" y2="430.2" stroke="#3a3a3a" stroke-width="0.6"/>
<text x="710.20" y="432.40" font-size="6.3" fill="#1a1a1a" stroke="#1a1a1a" stroke-width="0.22" textLength="6.52" lengthAdjust="spacingAndGlyphs" transform="rotate(0.03 710.20 432.40)">10</text>
<line x1="705.6" y1="454.6" x2="707.8" y2="454.6" stroke="#3a3a3a" stroke-width="0.6"/>
<text x="710.20" y="456.85" font-size="6.3" fill="#1a1a1a" stroke="#1a1a1a" stroke-width="0.22" textLength="3.26" lengthAdjust="spacingAndGlyphs" transform="rotate(0.03 710.20 456.85)">8</text>
<line x1="705.6" y1="479.1" x2="707.8" y2="479.1" stroke="#3a3a3a" stroke-width="0.6"/>
<text x="710.20" y="481.30" font-size="6.3" fill="#1a1a1a" stroke="#1a1a1a" stroke-width="0.22" textLength="3.26" lengthAdjust="spacingAndGlyphs" transform="rotate(0.03 710.20 481.30)">6</text>
<line x1="705.6" y1="503.6" x2="707.8" y2="503.6" stroke="#3a3a3a" stroke-width="0.6"/>
<text x="710.20" y="505.75" font-size="6.3" fill="#1a1a1a" stroke="#1a1a1a" stroke-width="0.22" textLength="3.26" lengthAdjust="spacingAndGlyphs" transform="rotate(0.03 710.20 505.75)">4</text>
<text x="724.00" y="432.70" font-size="6.9" fill="#1a1a1a" stroke="#1a1a1a" stroke-width="0.1" text-anchor="middle" textLength="10.80" lengthAdjust="spacingAndGlyphs" transform="rotate(-90.03 724.00 432.70)">Glu</text>
<text x="583.80" y="523.50" font-size="7.3" fill="#1a1a1a" stroke="#1a1a1a" stroke-width="0.22" textLength="5.80" lengthAdjust="spacingAndGlyphs" transform="rotate(0.03 583.80 523.50)">F.</text>
<text x="591.20" y="523.50" font-size="7.4" fill="#1a1a1a" stroke="#1a1a1a" stroke-width="0.22" textLength="23.60" lengthAdjust="spacingAndGlyphs" transform="rotate(0.03 591.20 523.50)">Weight</text>
<text x="485.80" y="432.50" font-size="6.9" fill="#1a1a1a" stroke="#1a1a1a" stroke-width="0.1" text-anchor="middle" textLength="49.20" lengthAdjust="spacingAndGlyphs" transform="rotate(-90.03 485.80 432.50)">SHAP value for</text>
<text x="493.20" y="432.50" font-size="6.9" fill="#1a1a1a" stroke="#1a1a1a" stroke-width="0.1" text-anchor="middle" textLength="21.90" lengthAdjust="spacingAndGlyphs" transform="rotate(-90.03 493.20 432.50)">Weight</text>
</g>
</svg>
</body></html>
